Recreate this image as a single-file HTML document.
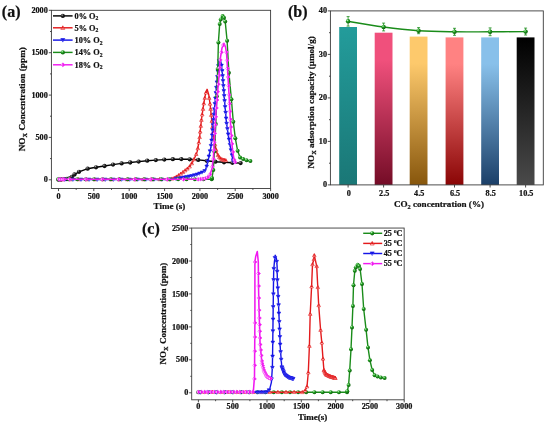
<!DOCTYPE html>
<html><head><meta charset="utf-8"><title>figure</title>
<style>
html,body{margin:0;padding:0;background:#fff;}
body{width:550px;height:424px;overflow:hidden;}
svg{display:block;font-family:"Liberation Serif", "DejaVu Serif", serif;font-weight:bold;fill:#111;filter:blur(0.35px);}
text{stroke:#111;stroke-width:0.22px;}
</style></head><body>
<svg width="550" height="424" viewBox="0 0 550 424">
<rect width="550" height="424" fill="#fff"/>
<defs>
<radialGradient id="gK" cx="0.35" cy="0.3" r="0.75"><stop offset="0" stop-color="#bbbbbb"/><stop offset="0.35" stop-color="#222222"/><stop offset="1" stop-color="#000000"/></radialGradient>
<radialGradient id="gG" cx="0.35" cy="0.3" r="0.75"><stop offset="0" stop-color="#b8f0b8"/><stop offset="0.4" stop-color="#1f9a1f"/><stop offset="1" stop-color="#0a5a0a"/></radialGradient>
<linearGradient id="b1" x1="0" y1="0" x2="0" y2="1"><stop offset="0" stop-color="#239c9b"/><stop offset="1" stop-color="#1a7776"/></linearGradient>
<linearGradient id="b2" x1="0" y1="0" x2="0" y2="1"><stop offset="0" stop-color="#f0507c"/><stop offset="0.18" stop-color="#f0507c"/><stop offset="1" stop-color="#740c26"/></linearGradient>
<linearGradient id="b3" x1="0" y1="0" x2="0" y2="1"><stop offset="0" stop-color="#fdc96c"/><stop offset="0.18" stop-color="#fdc96c"/><stop offset="1" stop-color="#87560c"/></linearGradient>
<linearGradient id="b4" x1="0" y1="0" x2="0" y2="1"><stop offset="0" stop-color="#ff8282"/><stop offset="0.18" stop-color="#ff8282"/><stop offset="1" stop-color="#8a0505"/></linearGradient>
<linearGradient id="b5" x1="0" y1="0" x2="0" y2="1"><stop offset="0" stop-color="#88c0ea"/><stop offset="0.18" stop-color="#88c0ea"/><stop offset="1" stop-color="#1b3f68"/></linearGradient>
<linearGradient id="b6" x1="0" y1="0" x2="0" y2="1"><stop offset="0" stop-color="#000000"/><stop offset="1" stop-color="#4a4a4a"/></linearGradient>
</defs>
<g id="panelA">
<rect x="51.4" y="10.3" width="219.20000000000002" height="178.2" fill="none" stroke="#3a3a3a" stroke-width="0.9"/>
<line x1="58.5" y1="188.5" x2="58.5" y2="191.1" stroke="#3a3a3a" stroke-width="0.9"/>
<text x="58.5" y="198.8" font-size="8.2" text-anchor="middle" >0</text>
<line x1="76.2" y1="188.5" x2="76.2" y2="189.9" stroke="#3a3a3a" stroke-width="0.9"/>
<line x1="93.8" y1="188.5" x2="93.8" y2="191.1" stroke="#3a3a3a" stroke-width="0.9"/>
<text x="93.8" y="198.8" font-size="8.2" text-anchor="middle" >500</text>
<line x1="111.5" y1="188.5" x2="111.5" y2="189.9" stroke="#3a3a3a" stroke-width="0.9"/>
<line x1="129.2" y1="188.5" x2="129.2" y2="191.1" stroke="#3a3a3a" stroke-width="0.9"/>
<text x="129.2" y="198.8" font-size="8.2" text-anchor="middle" >1000</text>
<line x1="146.9" y1="188.5" x2="146.9" y2="189.9" stroke="#3a3a3a" stroke-width="0.9"/>
<line x1="164.6" y1="188.5" x2="164.6" y2="191.1" stroke="#3a3a3a" stroke-width="0.9"/>
<text x="164.6" y="198.8" font-size="8.2" text-anchor="middle" >1500</text>
<line x1="182.2" y1="188.5" x2="182.2" y2="189.9" stroke="#3a3a3a" stroke-width="0.9"/>
<line x1="199.9" y1="188.5" x2="199.9" y2="191.1" stroke="#3a3a3a" stroke-width="0.9"/>
<text x="199.9" y="198.8" font-size="8.2" text-anchor="middle" >2000</text>
<line x1="217.6" y1="188.5" x2="217.6" y2="189.9" stroke="#3a3a3a" stroke-width="0.9"/>
<line x1="235.2" y1="188.5" x2="235.2" y2="191.1" stroke="#3a3a3a" stroke-width="0.9"/>
<text x="235.2" y="198.8" font-size="8.2" text-anchor="middle" >2500</text>
<line x1="252.9" y1="188.5" x2="252.9" y2="189.9" stroke="#3a3a3a" stroke-width="0.9"/>
<line x1="270.6" y1="188.5" x2="270.6" y2="191.1" stroke="#3a3a3a" stroke-width="0.9"/>
<text x="270.6" y="198.8" font-size="8.2" text-anchor="middle" >3000</text>
<line x1="51.4" y1="179.8" x2="48.8" y2="179.8" stroke="#3a3a3a" stroke-width="0.9"/>
<text x="47.8" y="182.4" font-size="8.2" text-anchor="end" >0</text>
<line x1="51.4" y1="158.6" x2="50.0" y2="158.6" stroke="#3a3a3a" stroke-width="0.9"/>
<line x1="51.4" y1="137.4" x2="48.8" y2="137.4" stroke="#3a3a3a" stroke-width="0.9"/>
<text x="47.8" y="140.0" font-size="8.2" text-anchor="end" >500</text>
<line x1="51.4" y1="116.2" x2="50.0" y2="116.2" stroke="#3a3a3a" stroke-width="0.9"/>
<line x1="51.4" y1="95.1" x2="48.8" y2="95.1" stroke="#3a3a3a" stroke-width="0.9"/>
<text x="47.8" y="97.7" font-size="8.2" text-anchor="end" >1000</text>
<line x1="51.4" y1="73.9" x2="50.0" y2="73.9" stroke="#3a3a3a" stroke-width="0.9"/>
<line x1="51.4" y1="52.7" x2="48.8" y2="52.7" stroke="#3a3a3a" stroke-width="0.9"/>
<text x="47.8" y="55.3" font-size="8.2" text-anchor="end" >1500</text>
<line x1="51.4" y1="31.5" x2="50.0" y2="31.5" stroke="#3a3a3a" stroke-width="0.9"/>
<line x1="51.4" y1="10.3" x2="48.8" y2="10.3" stroke="#3a3a3a" stroke-width="0.9"/>
<text x="47.8" y="12.9" font-size="8.2" text-anchor="end" >2000</text>
<text x="169.4" y="209.0" font-size="9" text-anchor="middle" >Time (s)</text>
<text transform="translate(25.2,99.2) rotate(-90)" font-size="9.25" text-anchor="middle">NO<tspan font-size="6.3" dy="1.8">X</tspan><tspan dy="-1.8"> Concentration (ppm)</tspan></text>
<text x="1.8" y="17.1" font-size="16" text-anchor="start" >(a)</text>
<polyline points="58.5,179.7 61.0,179.5 64.0,179.1 67.0,179.0 69.5,178.5 71.8,176.9 74.5,174.5 79.0,171.8 87.6,168.7 96.0,167.3 104.5,166.0 113.0,164.6 121.6,163.4 130.2,162.5 138.6,161.6 147.2,160.7 155.8,160.1 164.3,159.6 172.8,159.2 181.3,159.1 189.7,159.3 198.2,159.9 206.8,160.8 215.4,161.7 224.0,162.3 232.4,162.8 240.6,163.1" fill="none" stroke="#000" stroke-width="1.4" stroke-linejoin="round"/>
<circle cx="58.5" cy="179.7" r="2.15" fill="url(#gK)"/>
<circle cx="61.0" cy="179.5" r="2.15" fill="url(#gK)"/>
<circle cx="64.0" cy="179.1" r="2.15" fill="url(#gK)"/>
<circle cx="67.0" cy="179.0" r="2.15" fill="url(#gK)"/>
<circle cx="69.5" cy="178.5" r="2.15" fill="url(#gK)"/>
<circle cx="71.8" cy="176.9" r="2.15" fill="url(#gK)"/>
<circle cx="74.5" cy="174.5" r="2.15" fill="url(#gK)"/>
<circle cx="79.0" cy="171.8" r="2.15" fill="url(#gK)"/>
<circle cx="87.6" cy="168.7" r="2.15" fill="url(#gK)"/>
<circle cx="96.0" cy="167.3" r="2.15" fill="url(#gK)"/>
<circle cx="104.5" cy="166.0" r="2.15" fill="url(#gK)"/>
<circle cx="113.0" cy="164.6" r="2.15" fill="url(#gK)"/>
<circle cx="121.6" cy="163.4" r="2.15" fill="url(#gK)"/>
<circle cx="130.2" cy="162.5" r="2.15" fill="url(#gK)"/>
<circle cx="138.6" cy="161.6" r="2.15" fill="url(#gK)"/>
<circle cx="147.2" cy="160.7" r="2.15" fill="url(#gK)"/>
<circle cx="155.8" cy="160.1" r="2.15" fill="url(#gK)"/>
<circle cx="164.3" cy="159.6" r="2.15" fill="url(#gK)"/>
<circle cx="172.8" cy="159.2" r="2.15" fill="url(#gK)"/>
<circle cx="181.3" cy="159.1" r="2.15" fill="url(#gK)"/>
<circle cx="189.7" cy="159.3" r="2.15" fill="url(#gK)"/>
<circle cx="198.2" cy="159.9" r="2.15" fill="url(#gK)"/>
<circle cx="206.8" cy="160.8" r="2.15" fill="url(#gK)"/>
<circle cx="215.4" cy="161.7" r="2.15" fill="url(#gK)"/>
<circle cx="224.0" cy="162.3" r="2.15" fill="url(#gK)"/>
<circle cx="232.4" cy="162.8" r="2.15" fill="url(#gK)"/>
<circle cx="240.6" cy="163.1" r="2.15" fill="url(#gK)"/>
<polyline points="58.3,179.4 170.0,179.3 174.5,177.9 180.0,174.4 184.5,171.0 189.0,167.4 192.7,162.0 195.5,156.0 197.2,151.4 198.5,144.5 199.7,136.5 201.4,120.0 203.8,103.4 205.5,94.0 207.1,89.3 208.8,95.0 210.3,106.0 211.6,119.0 212.9,132.0 214.8,143.5 216.8,152.6 218.6,156.4 220.6,158.6 223.0,159.8 225.8,160.4" fill="none" stroke="#e31a1c" stroke-width="1.4" stroke-linejoin="round"/>
<polygon points="62.4,177.6 60.6,180.8 64.2,180.8" fill="#ffd9d4" stroke="#e31a1c" stroke-width="0.6"/><polygon points="62.4,177.6 61.1,179.9 63.7,179.9" fill="#e31a1c"/>
<polygon points="70.5,177.6 68.7,180.8 72.3,180.8" fill="#ffd9d4" stroke="#e31a1c" stroke-width="0.6"/><polygon points="70.5,177.6 69.2,179.9 71.8,179.9" fill="#e31a1c"/>
<polygon points="78.6,177.6 76.8,180.8 80.4,180.8" fill="#ffd9d4" stroke="#e31a1c" stroke-width="0.6"/><polygon points="78.6,177.6 77.3,179.9 79.9,179.9" fill="#e31a1c"/>
<polygon points="86.7,177.6 84.9,180.8 88.5,180.8" fill="#ffd9d4" stroke="#e31a1c" stroke-width="0.6"/><polygon points="86.7,177.6 85.4,179.9 88.0,179.9" fill="#e31a1c"/>
<polygon points="94.8,177.6 93.0,180.8 96.6,180.8" fill="#ffd9d4" stroke="#e31a1c" stroke-width="0.6"/><polygon points="94.8,177.6 93.5,179.9 96.1,179.9" fill="#e31a1c"/>
<polygon points="102.9,177.6 101.1,180.8 104.7,180.8" fill="#ffd9d4" stroke="#e31a1c" stroke-width="0.6"/><polygon points="102.9,177.6 101.6,179.9 104.2,179.9" fill="#e31a1c"/>
<polygon points="111.0,177.6 109.2,180.8 112.8,180.8" fill="#ffd9d4" stroke="#e31a1c" stroke-width="0.6"/><polygon points="111.0,177.6 109.7,179.9 112.3,179.9" fill="#e31a1c"/>
<polygon points="119.1,177.5 117.3,180.8 120.9,180.8" fill="#ffd9d4" stroke="#e31a1c" stroke-width="0.6"/><polygon points="119.1,177.5 117.8,179.9 120.4,179.9" fill="#e31a1c"/>
<polygon points="127.2,177.5 125.4,180.8 129.0,180.8" fill="#ffd9d4" stroke="#e31a1c" stroke-width="0.6"/><polygon points="127.2,177.5 125.9,179.9 128.5,179.9" fill="#e31a1c"/>
<polygon points="135.3,177.5 133.5,180.8 137.1,180.8" fill="#ffd9d4" stroke="#e31a1c" stroke-width="0.6"/><polygon points="135.3,177.5 134.0,179.9 136.6,179.9" fill="#e31a1c"/>
<polygon points="143.4,177.5 141.6,180.8 145.2,180.8" fill="#ffd9d4" stroke="#e31a1c" stroke-width="0.6"/><polygon points="143.4,177.5 142.1,179.9 144.7,179.9" fill="#e31a1c"/>
<polygon points="151.5,177.5 149.7,180.8 153.3,180.8" fill="#ffd9d4" stroke="#e31a1c" stroke-width="0.6"/><polygon points="151.5,177.5 150.2,179.9 152.8,179.9" fill="#e31a1c"/>
<polygon points="159.6,177.5 157.8,180.7 161.4,180.7" fill="#ffd9d4" stroke="#e31a1c" stroke-width="0.6"/><polygon points="159.6,177.5 158.3,179.8 160.9,179.8" fill="#e31a1c"/>
<polygon points="167.7,177.5 165.9,180.7 169.5,180.7" fill="#ffd9d4" stroke="#e31a1c" stroke-width="0.6"/><polygon points="167.7,177.5 166.4,179.8 169.0,179.8" fill="#e31a1c"/>
<polygon points="172.0,176.9 170.2,180.1 173.8,180.1" fill="#ffd9d4" stroke="#e31a1c" stroke-width="0.6"/><polygon points="172.0,176.9 170.7,179.2 173.3,179.2" fill="#e31a1c"/>
<polygon points="174.2,176.2 172.4,179.4 176.0,179.4" fill="#ffd9d4" stroke="#e31a1c" stroke-width="0.6"/><polygon points="174.2,176.2 172.9,178.5 175.5,178.5" fill="#e31a1c"/>
<polygon points="176.4,174.9 174.6,178.1 178.2,178.1" fill="#ffd9d4" stroke="#e31a1c" stroke-width="0.6"/><polygon points="176.4,174.9 175.1,177.2 177.7,177.2" fill="#e31a1c"/>
<polygon points="178.6,173.5 176.8,176.7 180.4,176.7" fill="#ffd9d4" stroke="#e31a1c" stroke-width="0.6"/><polygon points="178.6,173.5 177.3,175.8 179.9,175.8" fill="#e31a1c"/>
<polygon points="180.8,172.0 179.0,175.2 182.6,175.2" fill="#ffd9d4" stroke="#e31a1c" stroke-width="0.6"/><polygon points="180.8,172.0 179.5,174.3 182.1,174.3" fill="#e31a1c"/>
<polygon points="183.0,170.3 181.2,173.6 184.8,173.6" fill="#ffd9d4" stroke="#e31a1c" stroke-width="0.6"/><polygon points="183.0,170.3 181.7,172.7 184.3,172.7" fill="#e31a1c"/>
<polygon points="185.2,168.6 183.4,171.9 187.0,171.9" fill="#ffd9d4" stroke="#e31a1c" stroke-width="0.6"/><polygon points="185.2,168.6 183.9,171.0 186.5,171.0" fill="#e31a1c"/>
<polygon points="187.4,166.9 185.6,170.1 189.2,170.1" fill="#ffd9d4" stroke="#e31a1c" stroke-width="0.6"/><polygon points="187.4,166.9 186.1,169.2 188.7,169.2" fill="#e31a1c"/>
<polygon points="189.6,164.7 187.8,168.0 191.4,168.0" fill="#ffd9d4" stroke="#e31a1c" stroke-width="0.6"/><polygon points="189.6,164.7 188.3,167.1 190.9,167.1" fill="#e31a1c"/>
<polygon points="191.8,161.5 190.0,164.8 193.6,164.8" fill="#ffd9d4" stroke="#e31a1c" stroke-width="0.6"/><polygon points="191.8,161.5 190.5,163.9 193.1,163.9" fill="#e31a1c"/>
<polygon points="194.0,157.4 192.2,160.7 195.8,160.7" fill="#ffd9d4" stroke="#e31a1c" stroke-width="0.6"/><polygon points="194.0,157.4 192.7,159.8 195.3,159.8" fill="#e31a1c"/>
<polygon points="196.2,152.3 194.4,155.5 198.0,155.5" fill="#ffd9d4" stroke="#e31a1c" stroke-width="0.6"/><polygon points="196.2,152.3 194.9,154.6 197.5,154.6" fill="#e31a1c"/>
<polygon points="197.8,146.4 196.0,149.7 199.6,149.7" fill="#ffd9d4" stroke="#e31a1c" stroke-width="0.6"/><polygon points="197.8,146.4 196.5,148.8 199.1,148.8" fill="#e31a1c"/>
<polygon points="198.8,140.7 197.0,143.9 200.6,143.9" fill="#ffd9d4" stroke="#e31a1c" stroke-width="0.6"/><polygon points="198.8,140.7 197.5,143.0 200.1,143.0" fill="#e31a1c"/>
<polygon points="199.6,135.4 197.8,138.6 201.4,138.6" fill="#ffd9d4" stroke="#e31a1c" stroke-width="0.6"/><polygon points="199.6,135.4 198.3,137.7 200.9,137.7" fill="#e31a1c"/>
<polygon points="200.2,129.8 198.4,133.1 202.0,133.1" fill="#ffd9d4" stroke="#e31a1c" stroke-width="0.6"/><polygon points="200.2,129.8 198.9,132.2 201.5,132.2" fill="#e31a1c"/>
<polygon points="200.8,124.0 199.0,127.3 202.6,127.3" fill="#ffd9d4" stroke="#e31a1c" stroke-width="0.6"/><polygon points="200.8,124.0 199.5,126.4 202.1,126.4" fill="#e31a1c"/>
<polygon points="201.4,118.2 199.6,121.4 203.2,121.4" fill="#ffd9d4" stroke="#e31a1c" stroke-width="0.6"/><polygon points="201.4,118.2 200.1,120.5 202.7,120.5" fill="#e31a1c"/>
<polygon points="202.2,112.7 200.4,115.9 204.0,115.9" fill="#ffd9d4" stroke="#e31a1c" stroke-width="0.6"/><polygon points="202.2,112.7 200.9,115.0 203.5,115.0" fill="#e31a1c"/>
<polygon points="203.0,107.1 201.2,110.4 204.8,110.4" fill="#ffd9d4" stroke="#e31a1c" stroke-width="0.6"/><polygon points="203.0,107.1 201.7,109.5 204.3,109.5" fill="#e31a1c"/>
<polygon points="203.8,101.6 202.0,104.8 205.6,104.8" fill="#ffd9d4" stroke="#e31a1c" stroke-width="0.6"/><polygon points="203.8,101.6 202.5,103.9 205.1,103.9" fill="#e31a1c"/>
<polygon points="204.8,96.1 203.0,99.3 206.6,99.3" fill="#ffd9d4" stroke="#e31a1c" stroke-width="0.6"/><polygon points="204.8,96.1 203.5,98.4 206.1,98.4" fill="#e31a1c"/>
<polygon points="206.0,90.7 204.2,94.0 207.8,94.0" fill="#ffd9d4" stroke="#e31a1c" stroke-width="0.6"/><polygon points="206.0,90.7 204.7,93.1 207.3,93.1" fill="#e31a1c"/>
<polygon points="209.2,96.1 207.4,99.4 211.0,99.4" fill="#ffd9d4" stroke="#e31a1c" stroke-width="0.6"/><polygon points="209.2,96.1 207.9,98.5 210.5,98.5" fill="#e31a1c"/>
<polygon points="210.0,102.0 208.2,105.2 211.8,105.2" fill="#ffd9d4" stroke="#e31a1c" stroke-width="0.6"/><polygon points="210.0,102.0 208.7,104.3 211.3,104.3" fill="#e31a1c"/>
<polygon points="210.6,107.2 208.8,110.4 212.4,110.4" fill="#ffd9d4" stroke="#e31a1c" stroke-width="0.6"/><polygon points="210.6,107.2 209.3,109.5 211.9,109.5" fill="#e31a1c"/>
<polygon points="211.2,113.2 209.4,116.4 213.0,116.4" fill="#ffd9d4" stroke="#e31a1c" stroke-width="0.6"/><polygon points="211.2,113.2 209.9,115.5 212.5,115.5" fill="#e31a1c"/>
<polygon points="211.8,119.2 210.0,122.4 213.6,122.4" fill="#ffd9d4" stroke="#e31a1c" stroke-width="0.6"/><polygon points="211.8,119.2 210.5,121.5 213.1,121.5" fill="#e31a1c"/>
<polygon points="212.4,125.2 210.6,128.4 214.2,128.4" fill="#ffd9d4" stroke="#e31a1c" stroke-width="0.6"/><polygon points="212.4,125.2 211.1,127.5 213.7,127.5" fill="#e31a1c"/>
<polygon points="213.0,130.8 211.2,134.0 214.8,134.0" fill="#ffd9d4" stroke="#e31a1c" stroke-width="0.6"/><polygon points="213.0,130.8 211.7,133.1 214.3,133.1" fill="#e31a1c"/>
<polygon points="214.0,136.9 212.2,140.1 215.8,140.1" fill="#ffd9d4" stroke="#e31a1c" stroke-width="0.6"/><polygon points="214.0,136.9 212.7,139.2 215.3,139.2" fill="#e31a1c"/>
<polygon points="215.0,142.6 213.2,145.8 216.8,145.8" fill="#ffd9d4" stroke="#e31a1c" stroke-width="0.6"/><polygon points="215.0,142.6 213.7,144.9 216.3,144.9" fill="#e31a1c"/>
<polygon points="216.2,148.1 214.4,151.3 218.0,151.3" fill="#ffd9d4" stroke="#e31a1c" stroke-width="0.6"/><polygon points="216.2,148.1 214.9,150.4 217.5,150.4" fill="#e31a1c"/>
<polygon points="218.0,153.3 216.2,156.6 219.8,156.6" fill="#ffd9d4" stroke="#e31a1c" stroke-width="0.6"/><polygon points="218.0,153.3 216.7,155.7 219.3,155.7" fill="#e31a1c"/>
<polygon points="219.3,155.4 217.5,158.6 221.1,158.6" fill="#ffd9d4" stroke="#e31a1c" stroke-width="0.6"/><polygon points="219.3,155.4 218.0,157.7 220.6,157.7" fill="#e31a1c"/>
<polygon points="220.6,156.8 218.8,160.0 222.4,160.0" fill="#ffd9d4" stroke="#e31a1c" stroke-width="0.6"/><polygon points="220.6,156.8 219.3,159.1 221.9,159.1" fill="#e31a1c"/>
<polygon points="221.9,157.5 220.1,160.7 223.7,160.7" fill="#ffd9d4" stroke="#e31a1c" stroke-width="0.6"/><polygon points="221.9,157.5 220.6,159.8 223.2,159.8" fill="#e31a1c"/>
<polygon points="223.2,158.0 221.4,161.3 225.0,161.3" fill="#ffd9d4" stroke="#e31a1c" stroke-width="0.6"/><polygon points="223.2,158.0 221.9,160.4 224.5,160.4" fill="#e31a1c"/>
<polygon points="224.5,158.3 222.7,161.6 226.3,161.6" fill="#ffd9d4" stroke="#e31a1c" stroke-width="0.6"/><polygon points="224.5,158.3 223.2,160.7 225.8,160.7" fill="#e31a1c"/>
<polygon points="225.8,158.6 224.0,161.8 227.6,161.8" fill="#ffd9d4" stroke="#e31a1c" stroke-width="0.6"/><polygon points="225.8,158.6 224.5,160.9 227.1,160.9" fill="#e31a1c"/>
<polyline points="58.3,179.6 170.0,179.5 180.0,178.2 186.0,177.1 192.7,175.7 197.0,174.5 200.0,173.3 202.5,172.2 205.0,170.8 206.7,166.4 208.3,159.3 209.6,153.0 210.8,147.6 212.2,135.3 213.4,120.0 214.7,106.0 216.0,92.0 217.3,78.0 218.5,65.0 219.5,59.4 220.5,60.5 221.3,64.0 222.2,71.0 223.0,81.0 224.8,103.6 226.5,123.0 228.8,138.4 231.1,150.7 232.6,158.3 233.4,161.4" fill="none" stroke="#1414e6" stroke-width="1.4" stroke-linejoin="round"/>
<polygon points="64.8,181.4 63.0,178.2 66.6,178.2" fill="#dcdcff" stroke="#1414e6" stroke-width="0.6"/><polygon points="63.0,178.2 66.6,178.2 65.5,180.1 64.1,180.1" fill="#1414e6"/>
<polygon points="72.9,181.4 71.1,178.1 74.7,178.1" fill="#dcdcff" stroke="#1414e6" stroke-width="0.6"/><polygon points="71.1,178.1 74.7,178.1 73.6,180.1 72.2,180.1" fill="#1414e6"/>
<polygon points="81.0,181.4 79.2,178.1 82.8,178.1" fill="#dcdcff" stroke="#1414e6" stroke-width="0.6"/><polygon points="79.2,178.1 82.8,178.1 81.7,180.1 80.3,180.1" fill="#1414e6"/>
<polygon points="89.1,181.4 87.3,178.1 90.9,178.1" fill="#dcdcff" stroke="#1414e6" stroke-width="0.6"/><polygon points="87.3,178.1 90.9,178.1 89.8,180.1 88.4,180.1" fill="#1414e6"/>
<polygon points="97.2,181.4 95.4,178.1 99.0,178.1" fill="#dcdcff" stroke="#1414e6" stroke-width="0.6"/><polygon points="95.4,178.1 99.0,178.1 97.9,180.1 96.5,180.1" fill="#1414e6"/>
<polygon points="105.3,181.4 103.5,178.1 107.1,178.1" fill="#dcdcff" stroke="#1414e6" stroke-width="0.6"/><polygon points="103.5,178.1 107.1,178.1 106.0,180.1 104.6,180.1" fill="#1414e6"/>
<polygon points="113.4,181.4 111.6,178.1 115.2,178.1" fill="#dcdcff" stroke="#1414e6" stroke-width="0.6"/><polygon points="111.6,178.1 115.2,178.1 114.1,180.1 112.7,180.1" fill="#1414e6"/>
<polygon points="121.5,181.3 119.7,178.1 123.3,178.1" fill="#dcdcff" stroke="#1414e6" stroke-width="0.6"/><polygon points="119.7,178.1 123.3,178.1 122.2,180.0 120.8,180.0" fill="#1414e6"/>
<polygon points="129.6,181.3 127.8,178.1 131.4,178.1" fill="#dcdcff" stroke="#1414e6" stroke-width="0.6"/><polygon points="127.8,178.1 131.4,178.1 130.3,180.0 128.9,180.0" fill="#1414e6"/>
<polygon points="137.7,181.3 135.9,178.1 139.5,178.1" fill="#dcdcff" stroke="#1414e6" stroke-width="0.6"/><polygon points="135.9,178.1 139.5,178.1 138.4,180.0 137.0,180.0" fill="#1414e6"/>
<polygon points="145.8,181.3 144.0,178.1 147.6,178.1" fill="#dcdcff" stroke="#1414e6" stroke-width="0.6"/><polygon points="144.0,178.1 147.6,178.1 146.5,180.0 145.1,180.0" fill="#1414e6"/>
<polygon points="153.9,181.3 152.1,178.1 155.7,178.1" fill="#dcdcff" stroke="#1414e6" stroke-width="0.6"/><polygon points="152.1,178.1 155.7,178.1 154.6,180.0 153.2,180.0" fill="#1414e6"/>
<polygon points="162.0,181.3 160.2,178.1 163.8,178.1" fill="#dcdcff" stroke="#1414e6" stroke-width="0.6"/><polygon points="160.2,178.1 163.8,178.1 162.7,180.0 161.3,180.0" fill="#1414e6"/>
<polygon points="170.1,181.3 168.3,178.0 171.9,178.0" fill="#dcdcff" stroke="#1414e6" stroke-width="0.6"/><polygon points="168.3,178.0 171.9,178.0 170.8,180.0 169.4,180.0" fill="#1414e6"/>
<polygon points="176.0,180.5 174.2,177.3 177.8,177.3" fill="#dcdcff" stroke="#1414e6" stroke-width="0.6"/><polygon points="174.2,177.3 177.8,177.3 176.7,179.2 175.3,179.2" fill="#1414e6"/>
<polygon points="178.6,180.2 176.8,176.9 180.4,176.9" fill="#dcdcff" stroke="#1414e6" stroke-width="0.6"/><polygon points="176.8,176.9 180.4,176.9 179.3,178.9 177.9,178.9" fill="#1414e6"/>
<polygon points="181.2,179.8 179.4,176.5 183.0,176.5" fill="#dcdcff" stroke="#1414e6" stroke-width="0.6"/><polygon points="179.4,176.5 183.0,176.5 181.9,178.5 180.5,178.5" fill="#1414e6"/>
<polygon points="183.8,179.3 182.0,176.1 185.6,176.1" fill="#dcdcff" stroke="#1414e6" stroke-width="0.6"/><polygon points="182.0,176.1 185.6,176.1 184.5,178.0 183.1,178.0" fill="#1414e6"/>
<polygon points="186.4,178.8 184.6,175.6 188.2,175.6" fill="#dcdcff" stroke="#1414e6" stroke-width="0.6"/><polygon points="184.6,175.6 188.2,175.6 187.1,177.5 185.7,177.5" fill="#1414e6"/>
<polygon points="189.0,178.3 187.2,175.0 190.8,175.0" fill="#dcdcff" stroke="#1414e6" stroke-width="0.6"/><polygon points="187.2,175.0 190.8,175.0 189.7,177.0 188.3,177.0" fill="#1414e6"/>
<polygon points="191.6,177.7 189.8,174.5 193.4,174.5" fill="#dcdcff" stroke="#1414e6" stroke-width="0.6"/><polygon points="189.8,174.5 193.4,174.5 192.3,176.4 190.9,176.4" fill="#1414e6"/>
<polygon points="194.2,177.1 192.4,173.8 196.0,173.8" fill="#dcdcff" stroke="#1414e6" stroke-width="0.6"/><polygon points="192.4,173.8 196.0,173.8 194.9,175.8 193.5,175.8" fill="#1414e6"/>
<polygon points="196.8,176.4 195.0,173.1 198.6,173.1" fill="#dcdcff" stroke="#1414e6" stroke-width="0.6"/><polygon points="195.0,173.1 198.6,173.1 197.5,175.1 196.1,175.1" fill="#1414e6"/>
<polygon points="199.4,175.3 197.6,172.1 201.2,172.1" fill="#dcdcff" stroke="#1414e6" stroke-width="0.6"/><polygon points="197.6,172.1 201.2,172.1 200.1,174.0 198.7,174.0" fill="#1414e6"/>
<polygon points="202.0,174.2 200.2,171.0 203.8,171.0" fill="#dcdcff" stroke="#1414e6" stroke-width="0.6"/><polygon points="200.2,171.0 203.8,171.0 202.7,172.9 201.3,172.9" fill="#1414e6"/>
<polygon points="204.6,172.8 202.8,169.6 206.4,169.6" fill="#dcdcff" stroke="#1414e6" stroke-width="0.6"/><polygon points="202.8,169.6 206.4,169.6 205.3,171.5 203.9,171.5" fill="#1414e6"/>
<polygon points="206.7,168.2 204.9,165.0 208.5,165.0" fill="#dcdcff" stroke="#1414e6" stroke-width="0.6"/><polygon points="204.9,165.0 208.5,165.0 207.4,166.9 206.0,166.9" fill="#1414e6"/>
<polygon points="207.8,163.3 206.0,160.1 209.6,160.1" fill="#dcdcff" stroke="#1414e6" stroke-width="0.6"/><polygon points="206.0,160.1 209.6,160.1 208.5,162.0 207.1,162.0" fill="#1414e6"/>
<polygon points="208.9,158.2 207.1,155.0 210.7,155.0" fill="#dcdcff" stroke="#1414e6" stroke-width="0.6"/><polygon points="207.1,155.0 210.7,155.0 209.6,156.9 208.2,156.9" fill="#1414e6"/>
<polygon points="210.0,153.0 208.2,149.8 211.8,149.8" fill="#dcdcff" stroke="#1414e6" stroke-width="0.6"/><polygon points="208.2,149.8 211.8,149.8 210.7,151.7 209.3,151.7" fill="#1414e6"/>
<polygon points="211.0,147.6 209.2,144.4 212.8,144.4" fill="#dcdcff" stroke="#1414e6" stroke-width="0.6"/><polygon points="209.2,144.4 212.8,144.4 211.7,146.3 210.3,146.3" fill="#1414e6"/>
<polygon points="211.6,142.4 209.8,139.1 213.4,139.1" fill="#dcdcff" stroke="#1414e6" stroke-width="0.6"/><polygon points="209.8,139.1 213.4,139.1 212.3,141.1 210.9,141.1" fill="#1414e6"/>
<polygon points="212.2,137.1 210.4,133.9 214.0,133.9" fill="#dcdcff" stroke="#1414e6" stroke-width="0.6"/><polygon points="210.4,133.9 214.0,133.9 212.9,135.8 211.5,135.8" fill="#1414e6"/>
<polygon points="212.6,132.0 210.8,128.8 214.4,128.8" fill="#dcdcff" stroke="#1414e6" stroke-width="0.6"/><polygon points="210.8,128.8 214.4,128.8 213.3,130.7 211.9,130.7" fill="#1414e6"/>
<polygon points="213.0,126.9 211.2,123.7 214.8,123.7" fill="#dcdcff" stroke="#1414e6" stroke-width="0.6"/><polygon points="211.2,123.7 214.8,123.7 213.7,125.6 212.3,125.6" fill="#1414e6"/>
<polygon points="213.4,121.8 211.6,118.6 215.2,118.6" fill="#dcdcff" stroke="#1414e6" stroke-width="0.6"/><polygon points="211.6,118.6 215.2,118.6 214.1,120.5 212.7,120.5" fill="#1414e6"/>
<polygon points="213.9,116.4 212.1,113.2 215.7,113.2" fill="#dcdcff" stroke="#1414e6" stroke-width="0.6"/><polygon points="212.1,113.2 215.7,113.2 214.6,115.1 213.2,115.1" fill="#1414e6"/>
<polygon points="214.4,111.0 212.6,107.8 216.2,107.8" fill="#dcdcff" stroke="#1414e6" stroke-width="0.6"/><polygon points="212.6,107.8 216.2,107.8 215.1,109.7 213.7,109.7" fill="#1414e6"/>
<polygon points="214.9,105.6 213.1,102.4 216.7,102.4" fill="#dcdcff" stroke="#1414e6" stroke-width="0.6"/><polygon points="213.1,102.4 216.7,102.4 215.6,104.4 214.2,104.4" fill="#1414e6"/>
<polygon points="215.4,100.3 213.6,97.0 217.2,97.0" fill="#dcdcff" stroke="#1414e6" stroke-width="0.6"/><polygon points="213.6,97.0 217.2,97.0 216.1,99.0 214.7,99.0" fill="#1414e6"/>
<polygon points="215.9,94.9 214.1,91.6 217.7,91.6" fill="#dcdcff" stroke="#1414e6" stroke-width="0.6"/><polygon points="214.1,91.6 217.7,91.6 216.6,93.6 215.2,93.6" fill="#1414e6"/>
<polygon points="216.4,89.5 214.6,86.3 218.2,86.3" fill="#dcdcff" stroke="#1414e6" stroke-width="0.6"/><polygon points="214.6,86.3 218.2,86.3 217.1,88.2 215.7,88.2" fill="#1414e6"/>
<polygon points="216.9,84.1 215.1,80.9 218.7,80.9" fill="#dcdcff" stroke="#1414e6" stroke-width="0.6"/><polygon points="215.1,80.9 218.7,80.9 217.6,82.8 216.2,82.8" fill="#1414e6"/>
<polygon points="217.4,78.7 215.6,75.5 219.2,75.5" fill="#dcdcff" stroke="#1414e6" stroke-width="0.6"/><polygon points="215.6,75.5 219.2,75.5 218.1,77.4 216.7,77.4" fill="#1414e6"/>
<polygon points="217.9,73.3 216.1,70.1 219.7,70.1" fill="#dcdcff" stroke="#1414e6" stroke-width="0.6"/><polygon points="216.1,70.1 219.7,70.1 218.6,72.0 217.2,72.0" fill="#1414e6"/>
<polygon points="218.4,67.9 216.6,64.6 220.2,64.6" fill="#dcdcff" stroke="#1414e6" stroke-width="0.6"/><polygon points="216.6,64.6 220.2,64.6 219.1,66.6 217.7,66.6" fill="#1414e6"/>
<polygon points="219.2,62.9 217.4,59.6 221.0,59.6" fill="#dcdcff" stroke="#1414e6" stroke-width="0.6"/><polygon points="217.4,59.6 221.0,59.6 219.9,61.6 218.5,61.6" fill="#1414e6"/>
<polygon points="221.5,67.4 219.7,64.1 223.3,64.1" fill="#dcdcff" stroke="#1414e6" stroke-width="0.6"/><polygon points="219.7,64.1 223.3,64.1 222.2,66.1 220.8,66.1" fill="#1414e6"/>
<polygon points="222.2,72.8 220.4,69.6 224.0,69.6" fill="#dcdcff" stroke="#1414e6" stroke-width="0.6"/><polygon points="220.4,69.6 224.0,69.6 222.9,71.5 221.5,71.5" fill="#1414e6"/>
<polygon points="222.6,77.8 220.8,74.6 224.4,74.6" fill="#dcdcff" stroke="#1414e6" stroke-width="0.6"/><polygon points="220.8,74.6 224.4,74.6 223.3,76.5 221.9,76.5" fill="#1414e6"/>
<polygon points="223.0,82.8 221.2,79.6 224.8,79.6" fill="#dcdcff" stroke="#1414e6" stroke-width="0.6"/><polygon points="221.2,79.6 224.8,79.6 223.7,81.5 222.3,81.5" fill="#1414e6"/>
<polygon points="223.4,87.8 221.6,84.6 225.2,84.6" fill="#dcdcff" stroke="#1414e6" stroke-width="0.6"/><polygon points="221.6,84.6 225.2,84.6 224.1,86.5 222.7,86.5" fill="#1414e6"/>
<polygon points="223.8,92.8 222.0,89.6 225.6,89.6" fill="#dcdcff" stroke="#1414e6" stroke-width="0.6"/><polygon points="222.0,89.6 225.6,89.6 224.5,91.5 223.1,91.5" fill="#1414e6"/>
<polygon points="224.2,97.9 222.4,94.6 226.0,94.6" fill="#dcdcff" stroke="#1414e6" stroke-width="0.6"/><polygon points="222.4,94.6 226.0,94.6 224.9,96.6 223.5,96.6" fill="#1414e6"/>
<polygon points="224.6,102.9 222.8,99.6 226.4,99.6" fill="#dcdcff" stroke="#1414e6" stroke-width="0.6"/><polygon points="222.8,99.6 226.4,99.6 225.3,101.6 223.9,101.6" fill="#1414e6"/>
<polygon points="225.1,108.8 223.3,105.6 226.9,105.6" fill="#dcdcff" stroke="#1414e6" stroke-width="0.6"/><polygon points="223.3,105.6 226.9,105.6 225.8,107.5 224.4,107.5" fill="#1414e6"/>
<polygon points="225.6,114.5 223.8,111.3 227.4,111.3" fill="#dcdcff" stroke="#1414e6" stroke-width="0.6"/><polygon points="223.8,111.3 227.4,111.3 226.3,113.2 224.9,113.2" fill="#1414e6"/>
<polygon points="226.1,120.2 224.3,117.0 227.9,117.0" fill="#dcdcff" stroke="#1414e6" stroke-width="0.6"/><polygon points="224.3,117.0 227.9,117.0 226.8,118.9 225.4,118.9" fill="#1414e6"/>
<polygon points="226.6,125.5 224.8,122.2 228.4,122.2" fill="#dcdcff" stroke="#1414e6" stroke-width="0.6"/><polygon points="224.8,122.2 228.4,122.2 227.3,124.2 225.9,124.2" fill="#1414e6"/>
<polygon points="227.4,130.8 225.6,127.6 229.2,127.6" fill="#dcdcff" stroke="#1414e6" stroke-width="0.6"/><polygon points="225.6,127.6 229.2,127.6 228.1,129.5 226.7,129.5" fill="#1414e6"/>
<polygon points="228.2,136.2 226.4,132.9 230.0,132.9" fill="#dcdcff" stroke="#1414e6" stroke-width="0.6"/><polygon points="226.4,132.9 230.0,132.9 228.9,134.9 227.5,134.9" fill="#1414e6"/>
<polygon points="229.0,141.3 227.2,138.0 230.8,138.0" fill="#dcdcff" stroke="#1414e6" stroke-width="0.6"/><polygon points="227.2,138.0 230.8,138.0 229.7,140.0 228.3,140.0" fill="#1414e6"/>
<polygon points="230.0,146.6 228.2,143.4 231.8,143.4" fill="#dcdcff" stroke="#1414e6" stroke-width="0.6"/><polygon points="228.2,143.4 231.8,143.4 230.7,145.3 229.3,145.3" fill="#1414e6"/>
<polygon points="231.0,152.0 229.2,148.7 232.8,148.7" fill="#dcdcff" stroke="#1414e6" stroke-width="0.6"/><polygon points="229.2,148.7 232.8,148.7 231.7,150.7 230.3,150.7" fill="#1414e6"/>
<polygon points="232.0,157.1 230.2,153.8 233.8,153.8" fill="#dcdcff" stroke="#1414e6" stroke-width="0.6"/><polygon points="230.2,153.8 233.8,153.8 232.7,155.8 231.3,155.8" fill="#1414e6"/>
<polygon points="233.1,162.0 231.3,158.8 234.9,158.8" fill="#dcdcff" stroke="#1414e6" stroke-width="0.6"/><polygon points="231.3,158.8 234.9,158.8 233.8,160.7 232.4,160.7" fill="#1414e6"/>
<polygon points="233.4,163.2 231.6,160.0 235.2,160.0" fill="#dcdcff" stroke="#1414e6" stroke-width="0.6"/><polygon points="231.6,160.0 235.2,160.0 234.1,161.9 232.7,161.9" fill="#1414e6"/>
<polyline points="58.1,179.2 60.4,179.2 68.8,179.2 77.2,179.2 85.6,179.2 94.0,179.2 102.4,179.2 110.8,179.2 119.2,179.2 127.6,179.2 136.0,179.2 144.4,179.2 152.8,179.2 161.2,179.2 169.6,179.2 178.1,179.2 186.5,179.2 194.9,179.2 203.3,179.2 211.7,179.2 212.0,177.9 213.3,170.0 214.4,151.5 215.8,124.1 216.8,96.2 217.7,68.9 218.4,42.4 219.7,23.9 220.7,19.5 222.6,16.1 224.0,17.7 225.2,21.4 227.1,40.7 228.9,72.7 231.4,99.3 233.3,121.8 235.3,138.2 237.6,150.7 240.1,157.5 243.1,159.1 246.5,160.3 250.4,161.1" fill="none" stroke="#1a8c1a" stroke-width="1.4" stroke-linejoin="round"/>
<circle cx="58.1" cy="179.2" r="2.0" fill="url(#gG)"/>
<circle cx="60.4" cy="179.2" r="2.0" fill="url(#gG)"/>
<circle cx="68.8" cy="179.2" r="2.0" fill="url(#gG)"/>
<circle cx="77.2" cy="179.2" r="2.0" fill="url(#gG)"/>
<circle cx="85.6" cy="179.2" r="2.0" fill="url(#gG)"/>
<circle cx="94.0" cy="179.2" r="2.0" fill="url(#gG)"/>
<circle cx="102.4" cy="179.2" r="2.0" fill="url(#gG)"/>
<circle cx="110.8" cy="179.2" r="2.0" fill="url(#gG)"/>
<circle cx="119.2" cy="179.2" r="2.0" fill="url(#gG)"/>
<circle cx="127.6" cy="179.2" r="2.0" fill="url(#gG)"/>
<circle cx="136.0" cy="179.2" r="2.0" fill="url(#gG)"/>
<circle cx="144.4" cy="179.2" r="2.0" fill="url(#gG)"/>
<circle cx="152.8" cy="179.2" r="2.0" fill="url(#gG)"/>
<circle cx="161.2" cy="179.2" r="2.0" fill="url(#gG)"/>
<circle cx="169.6" cy="179.2" r="2.0" fill="url(#gG)"/>
<circle cx="178.1" cy="179.2" r="2.0" fill="url(#gG)"/>
<circle cx="186.5" cy="179.2" r="2.0" fill="url(#gG)"/>
<circle cx="194.9" cy="179.2" r="2.0" fill="url(#gG)"/>
<circle cx="203.3" cy="179.2" r="2.0" fill="url(#gG)"/>
<circle cx="211.7" cy="179.2" r="2.0" fill="url(#gG)"/>
<circle cx="212.0" cy="177.9" r="2.0" fill="url(#gG)"/>
<circle cx="213.3" cy="170.0" r="2.0" fill="url(#gG)"/>
<circle cx="214.4" cy="151.5" r="2.0" fill="url(#gG)"/>
<circle cx="215.8" cy="124.1" r="2.0" fill="url(#gG)"/>
<circle cx="216.8" cy="96.2" r="2.0" fill="url(#gG)"/>
<circle cx="217.7" cy="68.9" r="2.0" fill="url(#gG)"/>
<circle cx="218.4" cy="42.4" r="2.0" fill="url(#gG)"/>
<circle cx="219.7" cy="23.9" r="2.0" fill="url(#gG)"/>
<circle cx="220.7" cy="19.5" r="2.0" fill="url(#gG)"/>
<circle cx="222.6" cy="16.1" r="2.0" fill="url(#gG)"/>
<circle cx="224.0" cy="17.7" r="2.0" fill="url(#gG)"/>
<circle cx="225.2" cy="21.4" r="2.0" fill="url(#gG)"/>
<circle cx="227.1" cy="40.7" r="2.0" fill="url(#gG)"/>
<circle cx="228.9" cy="72.7" r="2.0" fill="url(#gG)"/>
<circle cx="231.4" cy="99.3" r="2.0" fill="url(#gG)"/>
<circle cx="233.3" cy="121.8" r="2.0" fill="url(#gG)"/>
<circle cx="235.3" cy="138.2" r="2.0" fill="url(#gG)"/>
<circle cx="237.6" cy="150.7" r="2.0" fill="url(#gG)"/>
<circle cx="240.1" cy="157.5" r="2.0" fill="url(#gG)"/>
<circle cx="243.1" cy="159.1" r="2.0" fill="url(#gG)"/>
<circle cx="246.5" cy="160.3" r="2.0" fill="url(#gG)"/>
<circle cx="250.4" cy="161.1" r="2.0" fill="url(#gG)"/>
<polyline points="58.3,179.3 198.0,179.3 202.0,178.9 205.0,178.5 207.5,177.4 209.6,175.5 211.9,169.0 213.4,158.3 214.0,146.0 215.0,128.0 216.0,112.0 217.2,96.0 218.5,82.0 220.3,58.6 222.0,48.0 223.9,43.3 225.5,47.0 226.6,54.0 227.6,70.0 228.4,84.0 229.5,103.6 230.7,127.0 231.4,139.0 232.6,150.7 234.1,159.9 234.9,162.2" fill="none" stroke="#f018f0" stroke-width="1.55" stroke-linejoin="round"/>
<polygon points="56.99,179.30 58.80,177.40 60.89,179.30 58.80,181.20" fill="#fff4ff" stroke="#f018f0" stroke-width="0.5"/><polygon points="58.26,177.97 58.80,177.40 60.89,179.30 58.80,181.20 58.26,180.63" fill="#f018f0"/>
<polygon points="58.70,179.30 60.50,177.40 62.59,179.30 60.50,181.20" fill="#fff4ff" stroke="#f018f0" stroke-width="0.5"/><polygon points="59.96,177.97 60.50,177.40 62.59,179.30 60.50,181.20 59.96,180.63" fill="#f018f0"/>
<polygon points="60.40,179.30 62.20,177.40 64.29,179.30 62.20,181.20" fill="#fff4ff" stroke="#f018f0" stroke-width="0.5"/><polygon points="61.66,177.97 62.20,177.40 64.29,179.30 62.20,181.20 61.66,180.63" fill="#f018f0"/>
<polygon points="62.10,179.30 63.90,177.40 65.99,179.30 63.90,181.20" fill="#fff4ff" stroke="#f018f0" stroke-width="0.5"/><polygon points="63.36,177.97 63.90,177.40 65.99,179.30 63.90,181.20 63.36,180.63" fill="#f018f0"/>
<polygon points="67.79,179.30 69.60,177.40 71.69,179.30 69.60,181.20" fill="#fff4ff" stroke="#f018f0" stroke-width="0.5"/><polygon points="69.06,177.97 69.60,177.40 71.69,179.30 69.60,181.20 69.06,180.63" fill="#f018f0"/>
<polygon points="84.04,179.30 85.85,177.40 87.94,179.30 85.85,181.20" fill="#fff4ff" stroke="#f018f0" stroke-width="0.5"/><polygon points="85.31,177.97 85.85,177.40 87.94,179.30 85.85,181.20 85.31,180.63" fill="#f018f0"/>
<polygon points="100.29,179.30 102.10,177.40 104.19,179.30 102.10,181.20" fill="#fff4ff" stroke="#f018f0" stroke-width="0.5"/><polygon points="101.56,177.97 102.10,177.40 104.19,179.30 102.10,181.20 101.56,180.63" fill="#f018f0"/>
<polygon points="116.54,179.30 118.35,177.40 120.44,179.30 118.35,181.20" fill="#fff4ff" stroke="#f018f0" stroke-width="0.5"/><polygon points="117.81,177.97 118.35,177.40 120.44,179.30 118.35,181.20 117.81,180.63" fill="#f018f0"/>
<polygon points="132.79,179.30 134.60,177.40 136.69,179.30 134.60,181.20" fill="#fff4ff" stroke="#f018f0" stroke-width="0.5"/><polygon points="134.06,177.97 134.60,177.40 136.69,179.30 134.60,181.20 134.06,180.63" fill="#f018f0"/>
<polygon points="149.04,179.30 150.85,177.40 152.94,179.30 150.85,181.20" fill="#fff4ff" stroke="#f018f0" stroke-width="0.5"/><polygon points="150.31,177.97 150.85,177.40 152.94,179.30 150.85,181.20 150.31,180.63" fill="#f018f0"/>
<polygon points="165.29,179.30 167.10,177.40 169.19,179.30 167.10,181.20" fill="#fff4ff" stroke="#f018f0" stroke-width="0.5"/><polygon points="166.56,177.97 167.10,177.40 169.19,179.30 167.10,181.20 166.56,180.63" fill="#f018f0"/>
<polygon points="181.54,179.30 183.35,177.40 185.44,179.30 183.35,181.20" fill="#fff4ff" stroke="#f018f0" stroke-width="0.5"/><polygon points="182.81,177.97 183.35,177.40 185.44,179.30 183.35,181.20 182.81,180.63" fill="#f018f0"/>
<polygon points="196.19,179.30 198.00,177.40 200.09,179.30 198.00,181.20" fill="#fff4ff" stroke="#f018f0" stroke-width="0.5"/><polygon points="197.46,177.97 198.00,177.40 200.09,179.30 198.00,181.20 197.46,180.63" fill="#f018f0"/>
<polygon points="198.59,179.06 200.40,177.16 202.49,179.06 200.40,180.96" fill="#fff4ff" stroke="#f018f0" stroke-width="0.5"/><polygon points="199.86,177.73 200.40,177.16 202.49,179.06 200.40,180.96 199.86,180.39" fill="#f018f0"/>
<polygon points="201.00,178.79 202.80,176.89 204.89,178.79 202.80,180.69" fill="#fff4ff" stroke="#f018f0" stroke-width="0.5"/><polygon points="202.26,177.46 202.80,176.89 204.89,178.79 202.80,180.69 202.26,180.12" fill="#f018f0"/>
<polygon points="203.40,178.41 205.20,176.51 207.29,178.41 205.20,180.31" fill="#fff4ff" stroke="#f018f0" stroke-width="0.5"/><polygon points="204.66,177.08 205.20,176.51 207.29,178.41 205.20,180.31 204.66,179.74" fill="#f018f0"/>
<polygon points="205.80,177.31 207.60,175.41 209.69,177.31 207.60,179.21" fill="#fff4ff" stroke="#f018f0" stroke-width="0.5"/><polygon points="207.06,175.98 207.60,175.41 209.69,177.31 207.60,179.21 207.06,178.64" fill="#f018f0"/>
<polygon points="208.20,174.37 210.00,172.47 212.09,174.37 210.00,176.27" fill="#fff4ff" stroke="#f018f0" stroke-width="0.5"/><polygon points="209.46,173.04 210.00,172.47 212.09,174.37 210.00,176.27 209.46,175.70" fill="#f018f0"/>
<polygon points="210.39,166.86 212.20,164.96 214.29,166.86 212.20,168.76" fill="#fff4ff" stroke="#f018f0" stroke-width="0.5"/><polygon points="211.66,165.53 212.20,164.96 214.29,166.86 212.20,168.76 211.66,168.19" fill="#f018f0"/>
<polygon points="211.49,159.01 213.30,157.11 215.39,159.01 213.30,160.91" fill="#fff4ff" stroke="#f018f0" stroke-width="0.5"/><polygon points="212.76,157.68 213.30,157.11 215.39,159.01 213.30,160.91 212.76,160.34" fill="#f018f0"/>
<polygon points="211.99,150.10 213.80,148.20 215.89,150.10 213.80,152.00" fill="#fff4ff" stroke="#f018f0" stroke-width="0.5"/><polygon points="213.26,148.77 213.80,148.20 215.89,150.10 213.80,152.00 213.26,151.43" fill="#f018f0"/>
<polygon points="212.39,142.40 214.20,140.50 216.29,142.40 214.20,144.30" fill="#fff4ff" stroke="#f018f0" stroke-width="0.5"/><polygon points="213.66,141.07 214.20,140.50 216.29,142.40 214.20,144.30 213.66,143.73" fill="#f018f0"/>
<polygon points="212.89,133.40 214.70,131.50 216.79,133.40 214.70,135.30" fill="#fff4ff" stroke="#f018f0" stroke-width="0.5"/><polygon points="214.16,132.07 214.70,131.50 216.79,133.40 214.70,135.30 214.16,134.73" fill="#f018f0"/>
<polygon points="213.39,124.80 215.20,122.90 217.29,124.80 215.20,126.70" fill="#fff4ff" stroke="#f018f0" stroke-width="0.5"/><polygon points="214.66,123.47 215.20,122.90 217.29,124.80 215.20,126.70 214.66,126.13" fill="#f018f0"/>
<polygon points="213.89,116.80 215.70,114.90 217.79,116.80 215.70,118.70" fill="#fff4ff" stroke="#f018f0" stroke-width="0.5"/><polygon points="215.16,115.47 215.70,114.90 217.79,116.80 215.70,118.70 215.16,118.13" fill="#f018f0"/>
<polygon points="214.49,108.00 216.30,106.10 218.39,108.00 216.30,109.90" fill="#fff4ff" stroke="#f018f0" stroke-width="0.5"/><polygon points="215.76,106.67 216.30,106.10 218.39,108.00 216.30,109.90 215.76,109.33" fill="#f018f0"/>
<polygon points="215.09,100.00 216.90,98.10 218.99,100.00 216.90,101.90" fill="#fff4ff" stroke="#f018f0" stroke-width="0.5"/><polygon points="216.36,98.67 216.90,98.10 218.99,100.00 216.90,101.90 216.36,101.33" fill="#f018f0"/>
<polygon points="215.79,91.69 217.60,89.79 219.69,91.69 217.60,93.59" fill="#fff4ff" stroke="#f018f0" stroke-width="0.5"/><polygon points="217.06,90.36 217.60,89.79 219.69,91.69 217.60,93.59 217.06,93.02" fill="#f018f0"/>
<polygon points="216.49,84.15 218.30,82.25 220.39,84.15 218.30,86.05" fill="#fff4ff" stroke="#f018f0" stroke-width="0.5"/><polygon points="217.76,82.82 218.30,82.25 220.39,84.15 218.30,86.05 217.76,85.48" fill="#f018f0"/>
<polygon points="217.19,75.50 219.00,73.60 221.09,75.50 219.00,77.40" fill="#fff4ff" stroke="#f018f0" stroke-width="0.5"/><polygon points="218.46,74.17 219.00,73.60 221.09,75.50 219.00,77.40 218.46,76.83" fill="#f018f0"/>
<polygon points="217.79,67.70 219.60,65.80 221.69,67.70 219.60,69.60" fill="#fff4ff" stroke="#f018f0" stroke-width="0.5"/><polygon points="219.06,66.37 219.60,65.80 221.69,67.70 219.60,69.60 219.06,69.03" fill="#f018f0"/>
<polygon points="218.39,59.90 220.20,58.00 222.29,59.90 220.20,61.80" fill="#fff4ff" stroke="#f018f0" stroke-width="0.5"/><polygon points="219.66,58.57 220.20,58.00 222.29,59.90 220.20,61.80 219.66,61.23" fill="#f018f0"/>
<polygon points="219.49,52.36 221.30,50.46 223.39,52.36 221.30,54.26" fill="#fff4ff" stroke="#f018f0" stroke-width="0.5"/><polygon points="220.76,51.03 221.30,50.46 223.39,52.36 221.30,54.26 220.76,53.69" fill="#f018f0"/>
<polygon points="221.39,45.03 223.20,43.13 225.29,45.03 223.20,46.93" fill="#fff4ff" stroke="#f018f0" stroke-width="0.5"/><polygon points="222.66,43.70 223.20,43.13 225.29,45.03 223.20,46.93 222.66,46.36" fill="#f018f0"/>
<polygon points="224.49,52.09 226.30,50.19 228.39,52.09 226.30,53.99" fill="#fff4ff" stroke="#f018f0" stroke-width="0.5"/><polygon points="225.76,50.76 226.30,50.19 228.39,52.09 226.30,53.99 225.76,53.42" fill="#f018f0"/>
<polygon points="225.19,60.40 227.00,58.50 229.09,60.40 227.00,62.30" fill="#fff4ff" stroke="#f018f0" stroke-width="0.5"/><polygon points="226.46,59.07 227.00,58.50 229.09,60.40 227.00,62.30 226.46,61.73" fill="#f018f0"/>
<polygon points="225.69,68.40 227.50,66.50 229.59,68.40 227.50,70.30" fill="#fff4ff" stroke="#f018f0" stroke-width="0.5"/><polygon points="226.96,67.07 227.50,66.50 229.59,68.40 227.50,70.30 226.96,69.73" fill="#f018f0"/>
<polygon points="226.19,77.00 228.00,75.10 230.09,77.00 228.00,78.90" fill="#fff4ff" stroke="#f018f0" stroke-width="0.5"/><polygon points="227.46,75.67 228.00,75.10 230.09,77.00 228.00,78.90 227.46,78.33" fill="#f018f0"/>
<polygon points="226.69,85.78 228.50,83.88 230.59,85.78 228.50,87.68" fill="#fff4ff" stroke="#f018f0" stroke-width="0.5"/><polygon points="227.96,84.45 228.50,83.88 230.59,85.78 228.50,87.68 227.96,87.11" fill="#f018f0"/>
<polygon points="227.19,94.69 229.00,92.79 231.09,94.69 229.00,96.59" fill="#fff4ff" stroke="#f018f0" stroke-width="0.5"/><polygon points="228.46,93.36 229.00,92.79 231.09,94.69 229.00,96.59 228.46,96.02" fill="#f018f0"/>
<polygon points="227.69,103.60 229.50,101.70 231.59,103.60 229.50,105.50" fill="#fff4ff" stroke="#f018f0" stroke-width="0.5"/><polygon points="228.96,102.27 229.50,101.70 231.59,103.60 229.50,105.50 228.96,104.93" fill="#f018f0"/>
<polygon points="228.09,111.40 229.90,109.50 231.99,111.40 229.90,113.30" fill="#fff4ff" stroke="#f018f0" stroke-width="0.5"/><polygon points="229.36,110.07 229.90,109.50 231.99,111.40 229.90,113.30 229.36,112.73" fill="#f018f0"/>
<polygon points="228.49,119.20 230.30,117.30 232.39,119.20 230.30,121.10" fill="#fff4ff" stroke="#f018f0" stroke-width="0.5"/><polygon points="229.76,117.87 230.30,117.30 232.39,119.20 230.30,121.10 229.76,120.53" fill="#f018f0"/>
<polygon points="228.89,127.00 230.70,125.10 232.79,127.00 230.70,128.90" fill="#fff4ff" stroke="#f018f0" stroke-width="0.5"/><polygon points="230.16,125.67 230.70,125.10 232.79,127.00 230.70,128.90 230.16,128.33" fill="#f018f0"/>
<polygon points="229.39,135.57 231.20,133.67 233.29,135.57 231.20,137.47" fill="#fff4ff" stroke="#f018f0" stroke-width="0.5"/><polygon points="230.66,134.24 231.20,133.67 233.29,135.57 231.20,137.47 230.66,136.90" fill="#f018f0"/>
<polygon points="230.09,143.87 231.90,141.97 233.99,143.87 231.90,145.77" fill="#fff4ff" stroke="#f018f0" stroke-width="0.5"/><polygon points="231.36,142.54 231.90,141.97 233.99,143.87 231.90,145.77 231.36,145.20" fill="#f018f0"/>
<polygon points="230.99,151.93 232.80,150.03 234.89,151.93 232.80,153.83" fill="#fff4ff" stroke="#f018f0" stroke-width="0.5"/><polygon points="232.26,150.60 232.80,150.03 234.89,151.93 232.80,153.83 232.26,153.26" fill="#f018f0"/>
<polygon points="232.29,159.90 234.10,158.00 236.19,159.90 234.10,161.80" fill="#fff4ff" stroke="#f018f0" stroke-width="0.5"/><polygon points="233.56,158.57 234.10,158.00 236.19,159.90 234.10,161.80 233.56,161.23" fill="#f018f0"/>
<polygon points="233.09,162.20 234.90,160.30 236.99,162.20 234.90,164.10" fill="#fff4ff" stroke="#f018f0" stroke-width="0.5"/><polygon points="234.36,160.87 234.90,160.30 236.99,162.20 234.90,164.10 234.36,163.53" fill="#f018f0"/>
<line x1="53" y1="15.9" x2="72.6" y2="15.9" stroke="#000" stroke-width="1.45"/>
<circle cx="62.8" cy="15.9" r="2.1" fill="url(#gK)"/>
<text x="74.5" y="18.7" font-size="8.3">0% O<tspan font-size="5.6" dy="1.7">2</tspan></text>
<line x1="53" y1="27.8" x2="72.6" y2="27.8" stroke="#e31a1c" stroke-width="1.45"/>
<polygon points="62.8,25.8 60.8,29.4 64.8,29.4" fill="#ffd9d4" stroke="#e31a1c" stroke-width="0.6"/><polygon points="62.8,25.8 61.4,28.4 64.2,28.4" fill="#e31a1c"/>
<text x="74.5" y="30.6" font-size="8.3">5% O<tspan font-size="5.6" dy="1.7">2</tspan></text>
<line x1="53" y1="40.1" x2="72.6" y2="40.1" stroke="#1414e6" stroke-width="1.45"/>
<polygon points="62.8,42.1 60.8,38.5 64.8,38.5" fill="#dcdcff" stroke="#1414e6" stroke-width="0.6"/><polygon points="60.8,38.5 64.8,38.5 63.6,40.7 62.0,40.7" fill="#1414e6"/>
<text x="74.5" y="42.9" font-size="8.3">10% O<tspan font-size="5.6" dy="1.7">2</tspan></text>
<line x1="53" y1="52.4" x2="72.6" y2="52.4" stroke="#1a8c1a" stroke-width="1.45"/>
<circle cx="62.8" cy="52.4" r="2.1" fill="url(#gG)"/>
<text x="74.5" y="55.2" font-size="8.3">14% O<tspan font-size="5.6" dy="1.7">2</tspan></text>
<line x1="53" y1="64.8" x2="72.6" y2="64.8" stroke="#f018f0" stroke-width="1.45"/>
<polygon points="60.90,64.80 62.80,62.80 65.00,64.80 62.80,66.80" fill="#fff4ff" stroke="#f018f0" stroke-width="0.5"/><polygon points="62.23,63.40 62.80,62.80 65.00,64.80 62.80,66.80 62.23,66.20" fill="#f018f0"/>
<text x="74.5" y="67.6" font-size="8.3">18% O<tspan font-size="5.6" dy="1.7">2</tspan></text>
</g>
<g id="panelB">
<rect x="339.2" y="27.0" width="17.8" height="157.9" fill="url(#b1)"/>
<rect x="374.7" y="32.7" width="17.8" height="152.2" fill="url(#b2)"/>
<rect x="409.7" y="36.6" width="17.8" height="148.3" fill="url(#b3)"/>
<rect x="445.6" y="37.4" width="17.8" height="147.5" fill="url(#b4)"/>
<rect x="481.2" y="37.4" width="17.8" height="147.5" fill="url(#b5)"/>
<rect x="516.7" y="37.4" width="17.8" height="147.5" fill="url(#b6)"/>
<rect x="330.4" y="10.9" width="212.89999999999998" height="174.0" fill="none" stroke="#3a3a3a" stroke-width="0.9"/>
<line x1="330.4" y1="184.9" x2="327.79999999999995" y2="184.9" stroke="#3a3a3a" stroke-width="0.9"/>
<text x="327.0" y="187.1" font-size="8.2" text-anchor="end" >0</text>
<line x1="330.4" y1="163.2" x2="329.0" y2="163.2" stroke="#3a3a3a" stroke-width="0.9"/>
<line x1="330.4" y1="141.4" x2="327.79999999999995" y2="141.4" stroke="#3a3a3a" stroke-width="0.9"/>
<text x="327.0" y="143.6" font-size="8.2" text-anchor="end" >10</text>
<line x1="330.4" y1="119.7" x2="329.0" y2="119.7" stroke="#3a3a3a" stroke-width="0.9"/>
<line x1="330.4" y1="97.9" x2="327.79999999999995" y2="97.9" stroke="#3a3a3a" stroke-width="0.9"/>
<text x="327.0" y="100.1" font-size="8.2" text-anchor="end" >20</text>
<line x1="330.4" y1="76.2" x2="329.0" y2="76.2" stroke="#3a3a3a" stroke-width="0.9"/>
<line x1="330.4" y1="54.4" x2="327.79999999999995" y2="54.4" stroke="#3a3a3a" stroke-width="0.9"/>
<text x="327.0" y="56.6" font-size="8.2" text-anchor="end" >30</text>
<line x1="330.4" y1="32.7" x2="329.0" y2="32.7" stroke="#3a3a3a" stroke-width="0.9"/>
<line x1="330.4" y1="10.9" x2="327.79999999999995" y2="10.9" stroke="#3a3a3a" stroke-width="0.9"/>
<text x="327.0" y="13.1" font-size="8.2" text-anchor="end" >40</text>
<line x1="348.1" y1="184.9" x2="348.1" y2="187.5" stroke="#3a3a3a" stroke-width="0.9"/>
<text x="348.7" y="195.9" font-size="8.2" text-anchor="middle" >0</text>
<line x1="383.6" y1="184.9" x2="383.6" y2="187.5" stroke="#3a3a3a" stroke-width="0.9"/>
<text x="384.2" y="195.9" font-size="8.2" text-anchor="middle" >2.5</text>
<line x1="418.6" y1="184.9" x2="418.6" y2="187.5" stroke="#3a3a3a" stroke-width="0.9"/>
<text x="419.2" y="195.9" font-size="8.2" text-anchor="middle" >4.5</text>
<line x1="454.5" y1="184.9" x2="454.5" y2="187.5" stroke="#3a3a3a" stroke-width="0.9"/>
<text x="455.1" y="195.9" font-size="8.2" text-anchor="middle" >6.5</text>
<line x1="490.1" y1="184.9" x2="490.1" y2="187.5" stroke="#3a3a3a" stroke-width="0.9"/>
<text x="490.7" y="195.9" font-size="8.2" text-anchor="middle" >8.5</text>
<line x1="525.6" y1="184.9" x2="525.6" y2="187.5" stroke="#3a3a3a" stroke-width="0.9"/>
<text x="526.2" y="195.9" font-size="8.2" text-anchor="middle" >10.5</text>
<text x="439" y="207.0" font-size="9.1" text-anchor="middle">CO<tspan font-size="6.3" dy="1.8">2</tspan><tspan dy="-1.8"> concentration (%)</tspan></text>
<text transform="translate(314.0,102.4) rotate(-90)" font-size="9.1" text-anchor="middle">NO<tspan font-size="6.3" dy="1.8">X</tspan><tspan dy="-1.8"> adsorption capacity (μmol/g)</tspan></text>
<text x="288.0" y="16.9" font-size="16" text-anchor="start" >(b)</text>
<path d="M348.1,21.3 C354.0,22.3 371.9,25.4 383.6,27.0 C395.4,28.6 406.8,29.9 418.6,30.7 C430.4,31.5 442.6,31.6 454.5,31.8 C466.4,32.0 478.2,31.8 490.1,31.8 C502.0,31.7 519.7,31.6 525.6,31.6" fill="none" stroke="#1a8c1a" stroke-width="1.4"/>
<line x1="348.1" y1="16.6" x2="348.1" y2="26.1" stroke="#1a8c1a" stroke-width="0.8"/>
<line x1="346.6" y1="16.6" x2="349.6" y2="16.6" stroke="#1a8c1a" stroke-width="0.8"/>
<line x1="346.6" y1="26.1" x2="349.6" y2="26.1" stroke="#1a8c1a" stroke-width="0.8"/>
<circle cx="348.1" cy="21.3" r="2.2" fill="url(#gG)"/>
<line x1="383.6" y1="23.1" x2="383.6" y2="30.9" stroke="#1a8c1a" stroke-width="0.8"/>
<line x1="382.1" y1="23.1" x2="385.1" y2="23.1" stroke="#1a8c1a" stroke-width="0.8"/>
<line x1="382.1" y1="30.9" x2="385.1" y2="30.9" stroke="#1a8c1a" stroke-width="0.8"/>
<circle cx="383.6" cy="27.0" r="2.2" fill="url(#gG)"/>
<line x1="418.6" y1="27.6" x2="418.6" y2="33.7" stroke="#1a8c1a" stroke-width="0.8"/>
<line x1="417.1" y1="27.6" x2="420.1" y2="27.6" stroke="#1a8c1a" stroke-width="0.8"/>
<line x1="417.1" y1="33.7" x2="420.1" y2="33.7" stroke="#1a8c1a" stroke-width="0.8"/>
<circle cx="418.6" cy="30.7" r="2.2" fill="url(#gG)"/>
<line x1="454.5" y1="28.3" x2="454.5" y2="35.3" stroke="#1a8c1a" stroke-width="0.8"/>
<line x1="453.0" y1="28.3" x2="456.0" y2="28.3" stroke="#1a8c1a" stroke-width="0.8"/>
<line x1="453.0" y1="35.3" x2="456.0" y2="35.3" stroke="#1a8c1a" stroke-width="0.8"/>
<circle cx="454.5" cy="31.8" r="2.2" fill="url(#gG)"/>
<line x1="490.1" y1="27.9" x2="490.1" y2="35.7" stroke="#1a8c1a" stroke-width="0.8"/>
<line x1="488.6" y1="27.9" x2="491.6" y2="27.9" stroke="#1a8c1a" stroke-width="0.8"/>
<line x1="488.6" y1="35.7" x2="491.6" y2="35.7" stroke="#1a8c1a" stroke-width="0.8"/>
<circle cx="490.1" cy="31.8" r="2.2" fill="url(#gG)"/>
<line x1="525.6" y1="28.1" x2="525.6" y2="35.0" stroke="#1a8c1a" stroke-width="0.8"/>
<line x1="524.1" y1="28.1" x2="527.1" y2="28.1" stroke="#1a8c1a" stroke-width="0.8"/>
<line x1="524.1" y1="35.0" x2="527.1" y2="35.0" stroke="#1a8c1a" stroke-width="0.8"/>
<circle cx="525.6" cy="31.6" r="2.2" fill="url(#gG)"/>
</g>
<g id="panelC">
<rect x="191.7" y="228.05" width="212.45" height="171.75" fill="none" stroke="#3a3a3a" stroke-width="0.9"/>
<line x1="198.4" y1="399.8" x2="198.4" y2="402.40000000000003" stroke="#3a3a3a" stroke-width="0.9"/>
<text x="198.4" y="409.4" font-size="8.2" text-anchor="middle" >0</text>
<line x1="215.6" y1="399.8" x2="215.6" y2="401.2" stroke="#3a3a3a" stroke-width="0.9"/>
<line x1="232.7" y1="399.8" x2="232.7" y2="402.40000000000003" stroke="#3a3a3a" stroke-width="0.9"/>
<text x="232.7" y="409.4" font-size="8.2" text-anchor="middle" >500</text>
<line x1="249.9" y1="399.8" x2="249.9" y2="401.2" stroke="#3a3a3a" stroke-width="0.9"/>
<line x1="267.0" y1="399.8" x2="267.0" y2="402.40000000000003" stroke="#3a3a3a" stroke-width="0.9"/>
<text x="267.0" y="409.4" font-size="8.2" text-anchor="middle" >1000</text>
<line x1="284.2" y1="399.8" x2="284.2" y2="401.2" stroke="#3a3a3a" stroke-width="0.9"/>
<line x1="301.3" y1="399.8" x2="301.3" y2="402.40000000000003" stroke="#3a3a3a" stroke-width="0.9"/>
<text x="301.3" y="409.4" font-size="8.2" text-anchor="middle" >1500</text>
<line x1="318.4" y1="399.8" x2="318.4" y2="401.2" stroke="#3a3a3a" stroke-width="0.9"/>
<line x1="335.6" y1="399.8" x2="335.6" y2="402.40000000000003" stroke="#3a3a3a" stroke-width="0.9"/>
<text x="335.6" y="409.4" font-size="8.2" text-anchor="middle" >2000</text>
<line x1="352.7" y1="399.8" x2="352.7" y2="401.2" stroke="#3a3a3a" stroke-width="0.9"/>
<line x1="369.9" y1="399.8" x2="369.9" y2="402.40000000000003" stroke="#3a3a3a" stroke-width="0.9"/>
<text x="369.9" y="409.4" font-size="8.2" text-anchor="middle" >2500</text>
<line x1="387.0" y1="399.8" x2="387.0" y2="401.2" stroke="#3a3a3a" stroke-width="0.9"/>
<line x1="404.2" y1="399.8" x2="404.2" y2="402.40000000000003" stroke="#3a3a3a" stroke-width="0.9"/>
<text x="404.2" y="409.4" font-size="8.2" text-anchor="middle" >3000</text>
<line x1="191.7" y1="392.8" x2="189.1" y2="392.8" stroke="#3a3a3a" stroke-width="0.9"/>
<text x="188.4" y="395.4" font-size="8.2" text-anchor="end" >0</text>
<line x1="191.7" y1="376.3" x2="190.29999999999998" y2="376.3" stroke="#3a3a3a" stroke-width="0.9"/>
<line x1="191.7" y1="359.8" x2="189.1" y2="359.8" stroke="#3a3a3a" stroke-width="0.9"/>
<text x="188.4" y="362.4" font-size="8.2" text-anchor="end" >500</text>
<line x1="191.7" y1="343.3" x2="190.29999999999998" y2="343.3" stroke="#3a3a3a" stroke-width="0.9"/>
<line x1="191.7" y1="326.9" x2="189.1" y2="326.9" stroke="#3a3a3a" stroke-width="0.9"/>
<text x="188.4" y="329.5" font-size="8.2" text-anchor="end" >1000</text>
<line x1="191.7" y1="310.4" x2="190.29999999999998" y2="310.4" stroke="#3a3a3a" stroke-width="0.9"/>
<line x1="191.7" y1="293.9" x2="189.1" y2="293.9" stroke="#3a3a3a" stroke-width="0.9"/>
<text x="188.4" y="296.5" font-size="8.2" text-anchor="end" >1500</text>
<line x1="191.7" y1="277.5" x2="190.29999999999998" y2="277.5" stroke="#3a3a3a" stroke-width="0.9"/>
<line x1="191.7" y1="261.0" x2="189.1" y2="261.0" stroke="#3a3a3a" stroke-width="0.9"/>
<text x="188.4" y="263.6" font-size="8.2" text-anchor="end" >2000</text>
<line x1="191.7" y1="244.5" x2="190.29999999999998" y2="244.5" stroke="#3a3a3a" stroke-width="0.9"/>
<line x1="191.7" y1="228.1" x2="189.1" y2="228.1" stroke="#3a3a3a" stroke-width="0.9"/>
<text x="188.4" y="230.7" font-size="8.2" text-anchor="end" >2500</text>
<text x="312.7" y="419.6" font-size="9" text-anchor="middle" >Time(s)</text>
<text transform="translate(166.4,313.6) rotate(-90)" font-size="9" text-anchor="middle">NO<tspan font-size="6.3" dy="1.8">X</tspan><tspan dy="-1.8"> Concentration (ppm)</tspan></text>
<text x="142.0" y="234.4" font-size="16" text-anchor="start" >(c)</text>
<polyline points="198.1,392.3 200.3,392.3 208.5,392.3 216.6,392.3 224.8,392.3 232.9,392.3 241.1,392.3 249.2,392.3 257.4,392.3 265.5,392.3 273.7,392.3 281.8,392.3 290.0,392.3 298.1,392.3 306.2,392.3 314.4,392.3 322.6,392.3 330.7,392.3 338.9,392.3 347.0,392.3 347.3,391.3 348.6,385.1 349.7,370.6 351.0,349.2 352.0,327.4 352.9,306.0 353.5,285.3 354.8,270.8 355.8,267.4 357.6,264.7 359.0,266.0 360.1,268.9 362.0,284.0 363.7,309.0 366.1,329.8 368.0,347.4 369.9,360.2 372.2,370.0 374.6,375.3 377.5,376.6 380.8,377.5 384.6,378.1" fill="none" stroke="#1a8c1a" stroke-width="1.4" stroke-linejoin="round"/>
<circle cx="198.1" cy="392.3" r="2.0" fill="url(#gG)"/>
<circle cx="200.3" cy="392.3" r="2.0" fill="url(#gG)"/>
<circle cx="208.5" cy="392.3" r="2.0" fill="url(#gG)"/>
<circle cx="216.6" cy="392.3" r="2.0" fill="url(#gG)"/>
<circle cx="224.8" cy="392.3" r="2.0" fill="url(#gG)"/>
<circle cx="232.9" cy="392.3" r="2.0" fill="url(#gG)"/>
<circle cx="241.1" cy="392.3" r="2.0" fill="url(#gG)"/>
<circle cx="249.2" cy="392.3" r="2.0" fill="url(#gG)"/>
<circle cx="257.4" cy="392.3" r="2.0" fill="url(#gG)"/>
<circle cx="265.5" cy="392.3" r="2.0" fill="url(#gG)"/>
<circle cx="273.7" cy="392.3" r="2.0" fill="url(#gG)"/>
<circle cx="281.8" cy="392.3" r="2.0" fill="url(#gG)"/>
<circle cx="290.0" cy="392.3" r="2.0" fill="url(#gG)"/>
<circle cx="298.1" cy="392.3" r="2.0" fill="url(#gG)"/>
<circle cx="306.2" cy="392.3" r="2.0" fill="url(#gG)"/>
<circle cx="314.4" cy="392.3" r="2.0" fill="url(#gG)"/>
<circle cx="322.6" cy="392.3" r="2.0" fill="url(#gG)"/>
<circle cx="330.7" cy="392.3" r="2.0" fill="url(#gG)"/>
<circle cx="338.9" cy="392.3" r="2.0" fill="url(#gG)"/>
<circle cx="347.0" cy="392.3" r="2.0" fill="url(#gG)"/>
<circle cx="347.3" cy="391.3" r="2.0" fill="url(#gG)"/>
<circle cx="348.6" cy="385.1" r="2.0" fill="url(#gG)"/>
<circle cx="349.7" cy="370.6" r="2.0" fill="url(#gG)"/>
<circle cx="351.0" cy="349.2" r="2.0" fill="url(#gG)"/>
<circle cx="352.0" cy="327.4" r="2.0" fill="url(#gG)"/>
<circle cx="352.9" cy="306.0" r="2.0" fill="url(#gG)"/>
<circle cx="353.5" cy="285.3" r="2.0" fill="url(#gG)"/>
<circle cx="354.8" cy="270.8" r="2.0" fill="url(#gG)"/>
<circle cx="355.8" cy="267.4" r="2.0" fill="url(#gG)"/>
<circle cx="357.6" cy="264.7" r="2.0" fill="url(#gG)"/>
<circle cx="359.0" cy="266.0" r="2.0" fill="url(#gG)"/>
<circle cx="360.1" cy="268.9" r="2.0" fill="url(#gG)"/>
<circle cx="362.0" cy="284.0" r="2.0" fill="url(#gG)"/>
<circle cx="363.7" cy="309.0" r="2.0" fill="url(#gG)"/>
<circle cx="366.1" cy="329.8" r="2.0" fill="url(#gG)"/>
<circle cx="368.0" cy="347.4" r="2.0" fill="url(#gG)"/>
<circle cx="369.9" cy="360.2" r="2.0" fill="url(#gG)"/>
<circle cx="372.2" cy="370.0" r="2.0" fill="url(#gG)"/>
<circle cx="374.6" cy="375.3" r="2.0" fill="url(#gG)"/>
<circle cx="377.5" cy="376.6" r="2.0" fill="url(#gG)"/>
<circle cx="380.8" cy="377.5" r="2.0" fill="url(#gG)"/>
<circle cx="384.6" cy="378.1" r="2.0" fill="url(#gG)"/>
<polyline points="198.1,392.2 302.3,392.2 305.1,390.6 307.0,386.5 308.3,372.5 309.4,346.0 310.2,314.0 311.6,286.5 312.5,264.3 313.9,259.2 314.3,255.3 316.7,266.2 317.8,287.2 318.7,305.3 320.6,330.0 321.8,342.6 323.0,358.7 323.9,370.0 325.8,374.2 329.6,376.2 335.3,378.0" fill="none" stroke="#e31a1c" stroke-width="1.4" stroke-linejoin="round"/>
<polygon points="204.5,390.3 202.7,393.5 206.3,393.5" fill="#ffd9d4" stroke="#e31a1c" stroke-width="0.6"/><polygon points="204.5,390.3 203.2,392.6 205.8,392.6" fill="#e31a1c"/>
<polygon points="212.7,390.3 210.8,393.5 214.5,393.5" fill="#ffd9d4" stroke="#e31a1c" stroke-width="0.6"/><polygon points="212.7,390.3 211.4,392.6 213.9,392.6" fill="#e31a1c"/>
<polygon points="220.8,390.3 219.0,393.5 222.6,393.5" fill="#ffd9d4" stroke="#e31a1c" stroke-width="0.6"/><polygon points="220.8,390.3 219.5,392.6 222.1,392.6" fill="#e31a1c"/>
<polygon points="228.9,390.3 227.1,393.5 230.8,393.5" fill="#ffd9d4" stroke="#e31a1c" stroke-width="0.6"/><polygon points="228.9,390.3 227.7,392.6 230.2,392.6" fill="#e31a1c"/>
<polygon points="237.1,390.3 235.3,393.5 238.9,393.5" fill="#ffd9d4" stroke="#e31a1c" stroke-width="0.6"/><polygon points="237.1,390.3 235.8,392.6 238.4,392.6" fill="#e31a1c"/>
<polygon points="245.2,390.3 243.4,393.5 247.1,393.5" fill="#ffd9d4" stroke="#e31a1c" stroke-width="0.6"/><polygon points="245.2,390.3 244.0,392.6 246.5,392.6" fill="#e31a1c"/>
<polygon points="253.4,390.3 251.6,393.5 255.2,393.5" fill="#ffd9d4" stroke="#e31a1c" stroke-width="0.6"/><polygon points="253.4,390.3 252.1,392.6 254.7,392.6" fill="#e31a1c"/>
<polygon points="261.6,390.3 259.8,393.5 263.4,393.5" fill="#ffd9d4" stroke="#e31a1c" stroke-width="0.6"/><polygon points="261.6,390.3 260.3,392.6 262.8,392.6" fill="#e31a1c"/>
<polygon points="269.7,390.3 267.9,393.5 271.5,393.5" fill="#ffd9d4" stroke="#e31a1c" stroke-width="0.6"/><polygon points="269.7,390.3 268.4,392.6 271.0,392.6" fill="#e31a1c"/>
<polygon points="277.9,390.3 276.1,393.5 279.7,393.5" fill="#ffd9d4" stroke="#e31a1c" stroke-width="0.6"/><polygon points="277.9,390.3 276.6,392.6 279.1,392.6" fill="#e31a1c"/>
<polygon points="286.0,390.3 284.2,393.5 287.8,393.5" fill="#ffd9d4" stroke="#e31a1c" stroke-width="0.6"/><polygon points="286.0,390.3 284.7,392.6 287.3,392.6" fill="#e31a1c"/>
<polygon points="294.1,390.3 292.3,393.5 295.9,393.5" fill="#ffd9d4" stroke="#e31a1c" stroke-width="0.6"/><polygon points="294.1,390.3 292.9,392.6 295.4,392.6" fill="#e31a1c"/>
<polygon points="302.3,390.4 300.5,393.6 304.1,393.6" fill="#ffd9d4" stroke="#e31a1c" stroke-width="0.6"/><polygon points="302.3,390.4 301.0,392.7 303.6,392.7" fill="#e31a1c"/>
<polygon points="305.1,388.8 303.3,392.0 306.9,392.0" fill="#ffd9d4" stroke="#e31a1c" stroke-width="0.6"/><polygon points="305.1,388.8 303.8,391.1 306.4,391.1" fill="#e31a1c"/>
<polygon points="307.0,384.7 305.2,387.9 308.8,387.9" fill="#ffd9d4" stroke="#e31a1c" stroke-width="0.6"/><polygon points="307.0,384.7 305.7,387.0 308.3,387.0" fill="#e31a1c"/>
<polygon points="308.3,370.7 306.5,373.9 310.1,373.9" fill="#ffd9d4" stroke="#e31a1c" stroke-width="0.6"/><polygon points="308.3,370.7 307.0,373.0 309.6,373.0" fill="#e31a1c"/>
<polygon points="309.4,344.2 307.6,347.4 311.2,347.4" fill="#ffd9d4" stroke="#e31a1c" stroke-width="0.6"/><polygon points="309.4,344.2 308.1,346.5 310.7,346.5" fill="#e31a1c"/>
<polygon points="310.2,312.2 308.4,315.4 312.0,315.4" fill="#ffd9d4" stroke="#e31a1c" stroke-width="0.6"/><polygon points="310.2,312.2 308.9,314.5 311.5,314.5" fill="#e31a1c"/>
<polygon points="311.6,284.7 309.8,287.9 313.4,287.9" fill="#ffd9d4" stroke="#e31a1c" stroke-width="0.6"/><polygon points="311.6,284.7 310.3,287.0 312.9,287.0" fill="#e31a1c"/>
<polygon points="312.5,262.5 310.7,265.7 314.3,265.7" fill="#ffd9d4" stroke="#e31a1c" stroke-width="0.6"/><polygon points="312.5,262.5 311.2,264.8 313.8,264.8" fill="#e31a1c"/>
<polygon points="313.9,257.4 312.1,260.6 315.7,260.6" fill="#ffd9d4" stroke="#e31a1c" stroke-width="0.6"/><polygon points="313.9,257.4 312.6,259.7 315.2,259.7" fill="#e31a1c"/>
<polygon points="314.3,253.5 312.5,256.7 316.1,256.7" fill="#ffd9d4" stroke="#e31a1c" stroke-width="0.6"/><polygon points="314.3,253.5 313.0,255.8 315.6,255.8" fill="#e31a1c"/>
<polygon points="316.7,264.4 314.9,267.6 318.5,267.6" fill="#ffd9d4" stroke="#e31a1c" stroke-width="0.6"/><polygon points="316.7,264.4 315.4,266.7 318.0,266.7" fill="#e31a1c"/>
<polygon points="317.8,285.4 316.0,288.6 319.6,288.6" fill="#ffd9d4" stroke="#e31a1c" stroke-width="0.6"/><polygon points="317.8,285.4 316.5,287.7 319.1,287.7" fill="#e31a1c"/>
<polygon points="318.7,303.5 316.9,306.7 320.5,306.7" fill="#ffd9d4" stroke="#e31a1c" stroke-width="0.6"/><polygon points="318.7,303.5 317.4,305.8 320.0,305.8" fill="#e31a1c"/>
<polygon points="320.6,328.2 318.8,331.4 322.4,331.4" fill="#ffd9d4" stroke="#e31a1c" stroke-width="0.6"/><polygon points="320.6,328.2 319.3,330.5 321.9,330.5" fill="#e31a1c"/>
<polygon points="321.8,340.8 320.0,344.0 323.6,344.0" fill="#ffd9d4" stroke="#e31a1c" stroke-width="0.6"/><polygon points="321.8,340.8 320.5,343.1 323.1,343.1" fill="#e31a1c"/>
<polygon points="323.0,356.9 321.2,360.1 324.8,360.1" fill="#ffd9d4" stroke="#e31a1c" stroke-width="0.6"/><polygon points="323.0,356.9 321.7,359.2 324.3,359.2" fill="#e31a1c"/>
<polygon points="323.9,368.2 322.1,371.4 325.7,371.4" fill="#ffd9d4" stroke="#e31a1c" stroke-width="0.6"/><polygon points="323.9,368.2 322.6,370.5 325.2,370.5" fill="#e31a1c"/>
<polygon points="324.2,368.9 322.4,372.1 326.0,372.1" fill="#ffd9d4" stroke="#e31a1c" stroke-width="0.6"/><polygon points="324.2,368.9 322.9,371.2 325.5,371.2" fill="#e31a1c"/>
<polygon points="324.8,370.1 322.9,373.3 326.6,373.3" fill="#ffd9d4" stroke="#e31a1c" stroke-width="0.6"/><polygon points="324.8,370.1 323.5,372.4 326.0,372.4" fill="#e31a1c"/>
<polygon points="325.3,371.3 323.5,374.5 327.1,374.5" fill="#ffd9d4" stroke="#e31a1c" stroke-width="0.6"/><polygon points="325.3,371.3 324.0,373.6 326.6,373.6" fill="#e31a1c"/>
<polygon points="325.9,372.4 324.1,375.7 327.7,375.7" fill="#ffd9d4" stroke="#e31a1c" stroke-width="0.6"/><polygon points="325.9,372.4 324.6,374.8 327.1,374.8" fill="#e31a1c"/>
<polygon points="326.4,372.7 324.6,376.0 328.2,376.0" fill="#ffd9d4" stroke="#e31a1c" stroke-width="0.6"/><polygon points="326.4,372.7 325.1,375.1 327.7,375.1" fill="#e31a1c"/>
<polygon points="327.0,373.0 325.2,376.2 328.8,376.2" fill="#ffd9d4" stroke="#e31a1c" stroke-width="0.6"/><polygon points="327.0,373.0 325.7,375.3 328.2,375.3" fill="#e31a1c"/>
<polygon points="327.5,373.3 325.7,376.5 329.3,376.5" fill="#ffd9d4" stroke="#e31a1c" stroke-width="0.6"/><polygon points="327.5,373.3 326.2,375.6 328.8,375.6" fill="#e31a1c"/>
<polygon points="328.1,373.6 326.3,376.8 329.9,376.8" fill="#ffd9d4" stroke="#e31a1c" stroke-width="0.6"/><polygon points="328.1,373.6 326.8,375.9 329.3,375.9" fill="#e31a1c"/>
<polygon points="328.6,373.9 326.8,377.1 330.4,377.1" fill="#ffd9d4" stroke="#e31a1c" stroke-width="0.6"/><polygon points="328.6,373.9 327.3,376.2 329.9,376.2" fill="#e31a1c"/>
<polygon points="329.2,374.2 327.4,377.4 331.0,377.4" fill="#ffd9d4" stroke="#e31a1c" stroke-width="0.6"/><polygon points="329.2,374.2 327.9,376.5 330.4,376.5" fill="#e31a1c"/>
<polygon points="329.7,374.4 327.9,377.7 331.5,377.7" fill="#ffd9d4" stroke="#e31a1c" stroke-width="0.6"/><polygon points="329.7,374.4 328.4,376.8 331.0,376.8" fill="#e31a1c"/>
<polygon points="330.3,374.6 328.5,377.8 332.1,377.8" fill="#ffd9d4" stroke="#e31a1c" stroke-width="0.6"/><polygon points="330.3,374.6 329.0,376.9 331.5,376.9" fill="#e31a1c"/>
<polygon points="330.8,374.8 329.0,378.0 332.6,378.0" fill="#ffd9d4" stroke="#e31a1c" stroke-width="0.6"/><polygon points="330.8,374.8 329.5,377.1 332.1,377.1" fill="#e31a1c"/>
<polygon points="331.4,375.0 329.6,378.2 333.2,378.2" fill="#ffd9d4" stroke="#e31a1c" stroke-width="0.6"/><polygon points="331.4,375.0 330.1,377.3 332.6,377.3" fill="#e31a1c"/>
<polygon points="331.9,375.1 330.1,378.4 333.7,378.4" fill="#ffd9d4" stroke="#e31a1c" stroke-width="0.6"/><polygon points="331.9,375.1 330.6,377.5 333.2,377.5" fill="#e31a1c"/>
<polygon points="332.5,375.3 330.7,378.5 334.3,378.5" fill="#ffd9d4" stroke="#e31a1c" stroke-width="0.6"/><polygon points="332.5,375.3 331.2,377.6 333.7,377.6" fill="#e31a1c"/>
<polygon points="333.0,375.5 331.2,378.7 334.8,378.7" fill="#ffd9d4" stroke="#e31a1c" stroke-width="0.6"/><polygon points="333.0,375.5 331.7,377.8 334.3,377.8" fill="#e31a1c"/>
<polygon points="333.6,375.6 331.8,378.9 335.4,378.9" fill="#ffd9d4" stroke="#e31a1c" stroke-width="0.6"/><polygon points="333.6,375.6 332.3,378.0 334.8,378.0" fill="#e31a1c"/>
<polygon points="334.1,375.8 332.3,379.1 335.9,379.1" fill="#ffd9d4" stroke="#e31a1c" stroke-width="0.6"/><polygon points="334.1,375.8 332.8,378.2 335.4,378.2" fill="#e31a1c"/>
<polygon points="334.7,376.0 332.9,379.2 336.5,379.2" fill="#ffd9d4" stroke="#e31a1c" stroke-width="0.6"/><polygon points="334.7,376.0 333.4,378.3 335.9,378.3" fill="#e31a1c"/>
<polygon points="335.2,376.2 333.4,379.4 337.0,379.4" fill="#ffd9d4" stroke="#e31a1c" stroke-width="0.6"/><polygon points="335.2,376.2 333.9,378.5 336.5,378.5" fill="#e31a1c"/>
<polygon points="335.3,376.2 333.5,379.4 337.1,379.4" fill="#ffd9d4" stroke="#e31a1c" stroke-width="0.6"/><polygon points="335.3,376.2 334.0,378.5 336.6,378.5" fill="#e31a1c"/>
<polyline points="198.1,392.4 266.7,392.3 269.5,389.8 271.4,382.3 272.4,367.0 272.8,339.0 273.1,315.5 273.4,290.0 273.7,270.0 274.4,262.0 275.2,255.3 276.4,258.5 277.1,266.0 277.4,283.0 278.0,292.0 279.3,323.0 280.3,348.3 281.8,367.2 284.6,374.7 288.4,377.5 293.1,378.9" fill="none" stroke="#1414e6" stroke-width="1.4" stroke-linejoin="round"/>
<polygon points="200.0,394.2 198.2,391.0 201.8,391.0" fill="#dcdcff" stroke="#1414e6" stroke-width="0.6"/><polygon points="198.2,391.0 201.8,391.0 200.7,392.9 199.3,392.9" fill="#1414e6"/>
<polygon points="208.2,394.2 206.3,390.9 210.0,390.9" fill="#dcdcff" stroke="#1414e6" stroke-width="0.6"/><polygon points="206.3,390.9 210.0,390.9 208.9,392.9 207.4,392.9" fill="#1414e6"/>
<polygon points="216.3,394.2 214.5,390.9 218.1,390.9" fill="#dcdcff" stroke="#1414e6" stroke-width="0.6"/><polygon points="214.5,390.9 218.1,390.9 217.0,392.9 215.6,392.9" fill="#1414e6"/>
<polygon points="224.5,394.2 222.7,390.9 226.3,390.9" fill="#dcdcff" stroke="#1414e6" stroke-width="0.6"/><polygon points="222.7,390.9 226.3,390.9 225.2,392.9 223.7,392.9" fill="#1414e6"/>
<polygon points="232.6,394.1 230.8,390.9 234.4,390.9" fill="#dcdcff" stroke="#1414e6" stroke-width="0.6"/><polygon points="230.8,390.9 234.4,390.9 233.3,392.9 231.9,392.9" fill="#1414e6"/>
<polygon points="240.8,394.1 239.0,390.9 242.6,390.9" fill="#dcdcff" stroke="#1414e6" stroke-width="0.6"/><polygon points="239.0,390.9 242.6,390.9 241.5,392.8 240.0,392.8" fill="#1414e6"/>
<polygon points="248.9,394.1 247.1,390.9 250.7,390.9" fill="#dcdcff" stroke="#1414e6" stroke-width="0.6"/><polygon points="247.1,390.9 250.7,390.9 249.6,392.8 248.2,392.8" fill="#1414e6"/>
<polygon points="257.0,394.1 255.2,390.9 258.8,390.9" fill="#dcdcff" stroke="#1414e6" stroke-width="0.6"/><polygon points="255.2,390.9 258.8,390.9 257.7,392.8 256.3,392.8" fill="#1414e6"/>
<polygon points="259.0,394.1 257.2,390.9 260.8,390.9" fill="#dcdcff" stroke="#1414e6" stroke-width="0.6"/><polygon points="257.2,390.9 260.8,390.9 259.7,392.8 258.3,392.8" fill="#1414e6"/>
<polygon points="261.0,394.1 259.2,390.9 262.8,390.9" fill="#dcdcff" stroke="#1414e6" stroke-width="0.6"/><polygon points="259.2,390.9 262.8,390.9 261.7,392.8 260.3,392.8" fill="#1414e6"/>
<polygon points="263.0,394.1 261.2,390.9 264.8,390.9" fill="#dcdcff" stroke="#1414e6" stroke-width="0.6"/><polygon points="261.2,390.9 264.8,390.9 263.7,392.8 262.3,392.8" fill="#1414e6"/>
<polygon points="265.0,394.1 263.2,390.9 266.8,390.9" fill="#dcdcff" stroke="#1414e6" stroke-width="0.6"/><polygon points="263.2,390.9 266.8,390.9 265.7,392.8 264.3,392.8" fill="#1414e6"/>
<polygon points="267.0,393.8 265.2,390.6 268.8,390.6" fill="#dcdcff" stroke="#1414e6" stroke-width="0.6"/><polygon points="265.2,390.6 268.8,390.6 267.7,392.5 266.3,392.5" fill="#1414e6"/>
<polygon points="269.0,392.0 267.2,388.8 270.8,388.8" fill="#dcdcff" stroke="#1414e6" stroke-width="0.6"/><polygon points="267.2,388.8 270.8,388.8 269.7,390.8 268.3,390.8" fill="#1414e6"/>
<polygon points="271.6,381.0 269.8,377.8 273.4,377.8" fill="#dcdcff" stroke="#1414e6" stroke-width="0.6"/><polygon points="269.8,377.8 273.4,377.8 272.3,379.7 270.9,379.7" fill="#1414e6"/>
<polygon points="272.4,369.6 270.6,366.3 274.2,366.3" fill="#dcdcff" stroke="#1414e6" stroke-width="0.6"/><polygon points="270.6,366.3 274.2,366.3 273.1,368.3 271.6,368.3" fill="#1414e6"/>
<polygon points="272.6,358.3 270.8,355.1 274.4,355.1" fill="#dcdcff" stroke="#1414e6" stroke-width="0.6"/><polygon points="270.8,355.1 274.4,355.1 273.3,357.0 271.8,357.0" fill="#1414e6"/>
<polygon points="272.8,344.3 271.0,341.1 274.6,341.1" fill="#dcdcff" stroke="#1414e6" stroke-width="0.6"/><polygon points="271.0,341.1 274.6,341.1 273.5,343.0 272.0,343.0" fill="#1414e6"/>
<polygon points="272.9,333.0 271.1,329.7 274.7,329.7" fill="#dcdcff" stroke="#1414e6" stroke-width="0.6"/><polygon points="271.1,329.7 274.7,329.7 273.6,331.7 272.2,331.7" fill="#1414e6"/>
<polygon points="273.1,321.2 271.3,318.0 274.9,318.0" fill="#dcdcff" stroke="#1414e6" stroke-width="0.6"/><polygon points="271.3,318.0 274.9,318.0 273.8,319.9 272.3,319.9" fill="#1414e6"/>
<polygon points="273.2,308.8 271.4,305.6 275.0,305.6" fill="#dcdcff" stroke="#1414e6" stroke-width="0.6"/><polygon points="271.4,305.6 275.0,305.6 273.9,307.5 272.5,307.5" fill="#1414e6"/>
<polygon points="273.4,296.0 271.6,292.8 275.2,292.8" fill="#dcdcff" stroke="#1414e6" stroke-width="0.6"/><polygon points="271.6,292.8 275.2,292.8 274.1,294.8 272.6,294.8" fill="#1414e6"/>
<polygon points="273.6,281.8 271.8,278.6 275.4,278.6" fill="#dcdcff" stroke="#1414e6" stroke-width="0.6"/><polygon points="271.8,278.6 275.4,278.6 274.3,280.5 272.8,280.5" fill="#1414e6"/>
<polygon points="273.8,270.7 272.0,267.4 275.6,267.4" fill="#dcdcff" stroke="#1414e6" stroke-width="0.6"/><polygon points="272.0,267.4 275.6,267.4 274.5,269.4 273.1,269.4" fill="#1414e6"/>
<polygon points="274.9,259.6 273.1,256.4 276.7,256.4" fill="#dcdcff" stroke="#1414e6" stroke-width="0.6"/><polygon points="273.1,256.4 276.7,256.4 275.6,258.3 274.2,258.3" fill="#1414e6"/>
<polygon points="276.7,263.5 274.9,260.3 278.5,260.3" fill="#dcdcff" stroke="#1414e6" stroke-width="0.6"/><polygon points="274.9,260.3 278.5,260.3 277.4,262.2 276.0,262.2" fill="#1414e6"/>
<polygon points="277.2,273.5 275.4,270.2 279.0,270.2" fill="#dcdcff" stroke="#1414e6" stroke-width="0.6"/><polygon points="275.4,270.2 279.0,270.2 277.9,272.2 276.5,272.2" fill="#1414e6"/>
<polygon points="277.4,282.0 275.6,278.7 279.2,278.7" fill="#dcdcff" stroke="#1414e6" stroke-width="0.6"/><polygon points="275.6,278.7 279.2,278.7 278.1,280.7 276.6,280.7" fill="#1414e6"/>
<polygon points="277.8,290.1 276.0,286.8 279.6,286.8" fill="#dcdcff" stroke="#1414e6" stroke-width="0.6"/><polygon points="276.0,286.8 279.6,286.8 278.5,288.8 277.0,288.8" fill="#1414e6"/>
<polygon points="278.2,298.6 276.4,295.3 280.0,295.3" fill="#dcdcff" stroke="#1414e6" stroke-width="0.6"/><polygon points="276.4,295.3 280.0,295.3 278.9,297.3 277.5,297.3" fill="#1414e6"/>
<polygon points="278.6,306.9 276.8,303.7 280.4,303.7" fill="#dcdcff" stroke="#1414e6" stroke-width="0.6"/><polygon points="276.8,303.7 280.4,303.7 279.3,305.6 277.8,305.6" fill="#1414e6"/>
<polygon points="278.9,315.3 277.1,312.0 280.7,312.0" fill="#dcdcff" stroke="#1414e6" stroke-width="0.6"/><polygon points="277.1,312.0 280.7,312.0 279.6,314.0 278.2,314.0" fill="#1414e6"/>
<polygon points="279.3,323.6 277.5,320.4 281.1,320.4" fill="#dcdcff" stroke="#1414e6" stroke-width="0.6"/><polygon points="277.5,320.4 281.1,320.4 280.0,322.3 278.5,322.3" fill="#1414e6"/>
<polygon points="279.6,331.1 277.8,327.9 281.4,327.9" fill="#dcdcff" stroke="#1414e6" stroke-width="0.6"/><polygon points="277.8,327.9 281.4,327.9 280.3,329.8 278.8,329.8" fill="#1414e6"/>
<polygon points="279.9,338.7 278.1,335.5 281.7,335.5" fill="#dcdcff" stroke="#1414e6" stroke-width="0.6"/><polygon points="278.1,335.5 281.7,335.5 280.6,337.4 279.1,337.4" fill="#1414e6"/>
<polygon points="280.2,346.3 278.4,343.1 282.0,343.1" fill="#dcdcff" stroke="#1414e6" stroke-width="0.6"/><polygon points="278.4,343.1 282.0,343.1 280.9,345.0 279.4,345.0" fill="#1414e6"/>
<polygon points="280.6,353.9 278.8,350.6 282.4,350.6" fill="#dcdcff" stroke="#1414e6" stroke-width="0.6"/><polygon points="278.8,350.6 282.4,350.6 281.3,352.6 279.9,352.6" fill="#1414e6"/>
<polygon points="281.2,361.4 279.4,358.2 283.0,358.2" fill="#dcdcff" stroke="#1414e6" stroke-width="0.6"/><polygon points="279.4,358.2 283.0,358.2 281.9,360.1 280.5,360.1" fill="#1414e6"/>
<polygon points="281.8,369.0 280.0,365.8 283.6,365.8" fill="#dcdcff" stroke="#1414e6" stroke-width="0.6"/><polygon points="280.0,365.8 283.6,365.8 282.5,367.7 281.1,367.7" fill="#1414e6"/>
<polygon points="282.0,369.5 280.2,366.3 283.8,366.3" fill="#dcdcff" stroke="#1414e6" stroke-width="0.6"/><polygon points="280.2,366.3 283.8,366.3 282.7,368.2 281.3,368.2" fill="#1414e6"/>
<polygon points="282.6,371.0 280.8,367.8 284.4,367.8" fill="#dcdcff" stroke="#1414e6" stroke-width="0.6"/><polygon points="280.8,367.8 284.4,367.8 283.3,369.7 281.8,369.7" fill="#1414e6"/>
<polygon points="283.1,372.5 281.3,369.2 284.9,369.2" fill="#dcdcff" stroke="#1414e6" stroke-width="0.6"/><polygon points="281.3,369.2 284.9,369.2 283.8,371.2 282.4,371.2" fill="#1414e6"/>
<polygon points="283.7,374.0 281.9,370.7 285.5,370.7" fill="#dcdcff" stroke="#1414e6" stroke-width="0.6"/><polygon points="281.9,370.7 285.5,370.7 284.4,372.7 282.9,372.7" fill="#1414e6"/>
<polygon points="284.2,375.4 282.4,372.2 286.0,372.2" fill="#dcdcff" stroke="#1414e6" stroke-width="0.6"/><polygon points="282.4,372.2 286.0,372.2 284.9,374.1 283.5,374.1" fill="#1414e6"/>
<polygon points="284.8,376.6 283.0,373.4 286.6,373.4" fill="#dcdcff" stroke="#1414e6" stroke-width="0.6"/><polygon points="283.0,373.4 286.6,373.4 285.5,375.3 284.0,375.3" fill="#1414e6"/>
<polygon points="285.3,377.0 283.5,373.8 287.1,373.8" fill="#dcdcff" stroke="#1414e6" stroke-width="0.6"/><polygon points="283.5,373.8 287.1,373.8 286.0,375.7 284.6,375.7" fill="#1414e6"/>
<polygon points="285.9,377.4 284.1,374.2 287.7,374.2" fill="#dcdcff" stroke="#1414e6" stroke-width="0.6"/><polygon points="284.1,374.2 287.7,374.2 286.6,376.1 285.1,376.1" fill="#1414e6"/>
<polygon points="286.4,377.8 284.6,374.6 288.2,374.6" fill="#dcdcff" stroke="#1414e6" stroke-width="0.6"/><polygon points="284.6,374.6 288.2,374.6 287.1,376.5 285.7,376.5" fill="#1414e6"/>
<polygon points="287.0,378.2 285.2,375.0 288.8,375.0" fill="#dcdcff" stroke="#1414e6" stroke-width="0.6"/><polygon points="285.2,375.0 288.8,375.0 287.7,376.9 286.2,376.9" fill="#1414e6"/>
<polygon points="287.5,378.6 285.7,375.4 289.3,375.4" fill="#dcdcff" stroke="#1414e6" stroke-width="0.6"/><polygon points="285.7,375.4 289.3,375.4 288.2,377.3 286.8,377.3" fill="#1414e6"/>
<polygon points="288.1,379.0 286.3,375.8 289.9,375.8" fill="#dcdcff" stroke="#1414e6" stroke-width="0.6"/><polygon points="286.3,375.8 289.9,375.8 288.8,377.7 287.3,377.7" fill="#1414e6"/>
<polygon points="288.6,379.4 286.8,376.1 290.4,376.1" fill="#dcdcff" stroke="#1414e6" stroke-width="0.6"/><polygon points="286.8,376.1 290.4,376.1 289.3,378.1 287.9,378.1" fill="#1414e6"/>
<polygon points="289.2,379.5 287.4,376.3 291.0,376.3" fill="#dcdcff" stroke="#1414e6" stroke-width="0.6"/><polygon points="287.4,376.3 291.0,376.3 289.9,378.2 288.4,378.2" fill="#1414e6"/>
<polygon points="289.7,379.7 287.9,376.4 291.5,376.4" fill="#dcdcff" stroke="#1414e6" stroke-width="0.6"/><polygon points="287.9,376.4 291.5,376.4 290.4,378.4 289.0,378.4" fill="#1414e6"/>
<polygon points="290.3,379.9 288.5,376.6 292.1,376.6" fill="#dcdcff" stroke="#1414e6" stroke-width="0.6"/><polygon points="288.5,376.6 292.1,376.6 291.0,378.6 289.5,378.6" fill="#1414e6"/>
<polygon points="290.8,380.0 289.0,376.8 292.6,376.8" fill="#dcdcff" stroke="#1414e6" stroke-width="0.6"/><polygon points="289.0,376.8 292.6,376.8 291.5,378.7 290.1,378.7" fill="#1414e6"/>
<polygon points="291.4,380.2 289.6,376.9 293.2,376.9" fill="#dcdcff" stroke="#1414e6" stroke-width="0.6"/><polygon points="289.6,376.9 293.2,376.9 292.1,378.9 290.6,378.9" fill="#1414e6"/>
<polygon points="291.9,380.3 290.1,377.1 293.7,377.1" fill="#dcdcff" stroke="#1414e6" stroke-width="0.6"/><polygon points="290.1,377.1 293.7,377.1 292.6,379.0 291.2,379.0" fill="#1414e6"/>
<polygon points="292.5,380.5 290.7,377.3 294.3,377.3" fill="#dcdcff" stroke="#1414e6" stroke-width="0.6"/><polygon points="290.7,377.3 294.3,377.3 293.2,379.2 291.7,379.2" fill="#1414e6"/>
<polygon points="293.0,380.7 291.2,377.4 294.8,377.4" fill="#dcdcff" stroke="#1414e6" stroke-width="0.6"/><polygon points="291.2,377.4 294.8,377.4 293.7,379.4 292.3,379.4" fill="#1414e6"/>
<polygon points="293.1,380.7 291.3,377.5 294.9,377.5" fill="#dcdcff" stroke="#1414e6" stroke-width="0.6"/><polygon points="291.3,377.5 294.9,377.5 293.8,379.4 292.4,379.4" fill="#1414e6"/>
<polyline points="198.1,392.0 253.3,392.0 254.5,376.6 254.9,320.0 254.9,262.0 255.7,256.5 257.3,251.6 258.3,262.0 258.5,285.0 258.9,305.0 259.3,318.0 260.1,344.5 262.0,363.4 263.9,371.0 266.7,376.6 270.5,378.5" fill="none" stroke="#f018f0" stroke-width="1.55" stroke-linejoin="round"/>
<polygon points="196.39,392.00 198.20,390.10 200.29,392.00 198.20,393.90" fill="#fff4ff" stroke="#f018f0" stroke-width="0.5"/><polygon points="197.66,390.67 198.20,390.10 200.29,392.00 198.20,393.90 197.66,393.33" fill="#f018f0"/>
<polygon points="199.59,392.00 201.40,390.10 203.49,392.00 201.40,393.90" fill="#fff4ff" stroke="#f018f0" stroke-width="0.5"/><polygon points="200.86,390.67 201.40,390.10 203.49,392.00 201.40,393.90 200.86,393.33" fill="#f018f0"/>
<polygon points="202.79,392.00 204.60,390.10 206.69,392.00 204.60,393.90" fill="#fff4ff" stroke="#f018f0" stroke-width="0.5"/><polygon points="204.06,390.67 204.60,390.10 206.69,392.00 204.60,393.90 204.06,393.33" fill="#f018f0"/>
<polygon points="205.99,392.00 207.80,390.10 209.89,392.00 207.80,393.90" fill="#fff4ff" stroke="#f018f0" stroke-width="0.5"/><polygon points="207.26,390.67 207.80,390.10 209.89,392.00 207.80,393.90 207.26,393.33" fill="#f018f0"/>
<polygon points="209.19,392.00 211.00,390.10 213.09,392.00 211.00,393.90" fill="#fff4ff" stroke="#f018f0" stroke-width="0.5"/><polygon points="210.46,390.67 211.00,390.10 213.09,392.00 211.00,393.90 210.46,393.33" fill="#f018f0"/>
<polygon points="212.39,392.00 214.20,390.10 216.29,392.00 214.20,393.90" fill="#fff4ff" stroke="#f018f0" stroke-width="0.5"/><polygon points="213.66,390.67 214.20,390.10 216.29,392.00 214.20,393.90 213.66,393.33" fill="#f018f0"/>
<polygon points="215.59,392.00 217.40,390.10 219.49,392.00 217.40,393.90" fill="#fff4ff" stroke="#f018f0" stroke-width="0.5"/><polygon points="216.86,390.67 217.40,390.10 219.49,392.00 217.40,393.90 216.86,393.33" fill="#f018f0"/>
<polygon points="218.79,392.00 220.60,390.10 222.69,392.00 220.60,393.90" fill="#fff4ff" stroke="#f018f0" stroke-width="0.5"/><polygon points="220.06,390.67 220.60,390.10 222.69,392.00 220.60,393.90 220.06,393.33" fill="#f018f0"/>
<polygon points="221.99,392.00 223.80,390.10 225.89,392.00 223.80,393.90" fill="#fff4ff" stroke="#f018f0" stroke-width="0.5"/><polygon points="223.26,390.67 223.80,390.10 225.89,392.00 223.80,393.90 223.26,393.33" fill="#f018f0"/>
<polygon points="225.19,392.00 227.00,390.10 229.09,392.00 227.00,393.90" fill="#fff4ff" stroke="#f018f0" stroke-width="0.5"/><polygon points="226.46,390.67 227.00,390.10 229.09,392.00 227.00,393.90 226.46,393.33" fill="#f018f0"/>
<polygon points="228.39,392.00 230.20,390.10 232.29,392.00 230.20,393.90" fill="#fff4ff" stroke="#f018f0" stroke-width="0.5"/><polygon points="229.66,390.67 230.20,390.10 232.29,392.00 230.20,393.90 229.66,393.33" fill="#f018f0"/>
<polygon points="231.59,392.00 233.40,390.10 235.49,392.00 233.40,393.90" fill="#fff4ff" stroke="#f018f0" stroke-width="0.5"/><polygon points="232.86,390.67 233.40,390.10 235.49,392.00 233.40,393.90 232.86,393.33" fill="#f018f0"/>
<polygon points="234.79,392.00 236.60,390.10 238.69,392.00 236.60,393.90" fill="#fff4ff" stroke="#f018f0" stroke-width="0.5"/><polygon points="236.06,390.67 236.60,390.10 238.69,392.00 236.60,393.90 236.06,393.33" fill="#f018f0"/>
<polygon points="237.99,392.00 239.80,390.10 241.89,392.00 239.80,393.90" fill="#fff4ff" stroke="#f018f0" stroke-width="0.5"/><polygon points="239.26,390.67 239.80,390.10 241.89,392.00 239.80,393.90 239.26,393.33" fill="#f018f0"/>
<polygon points="241.19,392.00 243.00,390.10 245.09,392.00 243.00,393.90" fill="#fff4ff" stroke="#f018f0" stroke-width="0.5"/><polygon points="242.46,390.67 243.00,390.10 245.09,392.00 243.00,393.90 242.46,393.33" fill="#f018f0"/>
<polygon points="244.39,392.00 246.20,390.10 248.29,392.00 246.20,393.90" fill="#fff4ff" stroke="#f018f0" stroke-width="0.5"/><polygon points="245.66,390.67 246.20,390.10 248.29,392.00 246.20,393.90 245.66,393.33" fill="#f018f0"/>
<polygon points="247.59,392.00 249.40,390.10 251.49,392.00 249.40,393.90" fill="#fff4ff" stroke="#f018f0" stroke-width="0.5"/><polygon points="248.86,390.67 249.40,390.10 251.49,392.00 249.40,393.90 248.86,393.33" fill="#f018f0"/>
<polygon points="250.79,392.00 252.60,390.10 254.69,392.00 252.60,393.90" fill="#fff4ff" stroke="#f018f0" stroke-width="0.5"/><polygon points="252.06,390.67 252.60,390.10 254.69,392.00 252.60,393.90 252.06,393.33" fill="#f018f0"/>
<polygon points="252.52,378.91 254.32,377.01 256.41,378.91 254.32,380.81" fill="#fff4ff" stroke="#f018f0" stroke-width="0.5"/><polygon points="253.78,377.58 254.32,377.01 256.41,378.91 254.32,380.81 253.78,380.24" fill="#f018f0"/>
<polygon points="252.78,365.28 254.58,363.38 256.67,365.28 254.58,367.18" fill="#fff4ff" stroke="#f018f0" stroke-width="0.5"/><polygon points="254.04,363.95 254.58,363.38 256.67,365.28 254.58,367.18 254.04,366.61" fill="#f018f0"/>
<polygon points="252.88,351.13 254.68,349.23 256.77,351.13 254.68,353.03" fill="#fff4ff" stroke="#f018f0" stroke-width="0.5"/><polygon points="254.14,349.80 254.68,349.23 256.77,351.13 254.68,353.03 254.14,352.46" fill="#f018f0"/>
<polygon points="252.98,336.98 254.78,335.08 256.87,336.98 254.78,338.88" fill="#fff4ff" stroke="#f018f0" stroke-width="0.5"/><polygon points="254.24,335.65 254.78,335.08 256.87,336.98 254.78,338.88 254.24,338.31" fill="#f018f0"/>
<polygon points="253.08,322.83 254.88,320.93 256.97,322.83 254.88,324.73" fill="#fff4ff" stroke="#f018f0" stroke-width="0.5"/><polygon points="254.34,321.50 254.88,320.93 256.97,322.83 254.88,324.73 254.34,324.16" fill="#f018f0"/>
<polygon points="253.10,262.00 254.90,260.10 256.99,262.00 254.90,263.90" fill="#fff4ff" stroke="#f018f0" stroke-width="0.5"/><polygon points="254.36,260.67 254.90,260.10 256.99,262.00 254.90,263.90 254.36,263.33" fill="#f018f0"/>
<polygon points="256.59,273.50 258.40,271.60 260.49,273.50 258.40,275.40" fill="#fff4ff" stroke="#f018f0" stroke-width="0.5"/><polygon points="257.86,272.17 258.40,271.60 260.49,273.50 258.40,275.40 257.86,274.83" fill="#f018f0"/>
<polygon points="256.71,286.00 258.52,284.10 260.61,286.00 258.52,287.90" fill="#fff4ff" stroke="#f018f0" stroke-width="0.5"/><polygon points="257.98,284.67 258.52,284.10 260.61,286.00 258.52,287.90 257.98,287.33" fill="#f018f0"/>
<polygon points="256.95,298.00 258.76,296.10 260.85,298.00 258.76,299.90" fill="#fff4ff" stroke="#f018f0" stroke-width="0.5"/><polygon points="258.22,296.67 258.76,296.10 260.85,298.00 258.76,299.90 258.22,299.33" fill="#f018f0"/>
<polygon points="257.25,310.20 259.06,308.30 261.15,310.20 259.06,312.10" fill="#fff4ff" stroke="#f018f0" stroke-width="0.5"/><polygon points="258.52,308.87 259.06,308.30 261.15,310.20 259.06,312.10 258.52,311.53" fill="#f018f0"/>
<polygon points="257.50,318.00 259.30,316.10 261.39,318.00 259.30,319.90" fill="#fff4ff" stroke="#f018f0" stroke-width="0.5"/><polygon points="258.76,316.67 259.30,316.10 261.39,318.00 259.30,319.90 258.76,319.33" fill="#f018f0"/>
<polygon points="257.70,324.63 259.50,322.73 261.59,324.63 259.50,326.53" fill="#fff4ff" stroke="#f018f0" stroke-width="0.5"/><polygon points="258.96,323.30 259.50,322.73 261.59,324.63 259.50,326.53 258.96,325.96" fill="#f018f0"/>
<polygon points="257.90,331.25 259.70,329.35 261.79,331.25 259.70,333.15" fill="#fff4ff" stroke="#f018f0" stroke-width="0.5"/><polygon points="259.16,329.92 259.70,329.35 261.79,331.25 259.70,333.15 259.16,332.58" fill="#f018f0"/>
<polygon points="258.10,337.88 259.90,335.98 261.99,337.88 259.90,339.78" fill="#fff4ff" stroke="#f018f0" stroke-width="0.5"/><polygon points="259.36,336.55 259.90,335.98 261.99,337.88 259.90,339.78 259.36,339.21" fill="#f018f0"/>
<polygon points="258.30,344.50 260.10,342.60 262.19,344.50 260.10,346.40" fill="#fff4ff" stroke="#f018f0" stroke-width="0.5"/><polygon points="259.56,343.17 260.10,342.60 262.19,344.50 260.10,346.40 259.56,345.83" fill="#f018f0"/>
<polygon points="258.85,349.97 260.65,348.07 262.74,349.97 260.65,351.87" fill="#fff4ff" stroke="#f018f0" stroke-width="0.5"/><polygon points="260.11,348.64 260.65,348.07 262.74,349.97 260.65,351.87 260.11,351.30" fill="#f018f0"/>
<polygon points="259.40,355.44 261.20,353.54 263.29,355.44 261.20,357.34" fill="#fff4ff" stroke="#f018f0" stroke-width="0.5"/><polygon points="260.66,354.11 261.20,353.54 263.29,355.44 261.20,357.34 260.66,356.77" fill="#f018f0"/>
<polygon points="259.95,360.91 261.75,359.01 263.84,360.91 261.75,362.81" fill="#fff4ff" stroke="#f018f0" stroke-width="0.5"/><polygon points="261.21,359.58 261.75,359.01 263.84,360.91 261.75,362.81 261.21,362.24" fill="#f018f0"/>
<polygon points="260.19,363.40 262.00,361.50 264.09,363.40 262.00,365.30" fill="#fff4ff" stroke="#f018f0" stroke-width="0.5"/><polygon points="261.46,362.07 262.00,361.50 264.09,363.40 262.00,365.30 261.46,364.73" fill="#f018f0"/>
<polygon points="260.75,365.60 262.55,363.70 264.64,365.60 262.55,367.50" fill="#fff4ff" stroke="#f018f0" stroke-width="0.5"/><polygon points="262.01,364.27 262.55,363.70 264.64,365.60 262.55,367.50 262.01,366.93" fill="#f018f0"/>
<polygon points="261.30,367.80 263.10,365.90 265.19,367.80 263.10,369.70" fill="#fff4ff" stroke="#f018f0" stroke-width="0.5"/><polygon points="262.56,366.47 263.10,365.90 265.19,367.80 263.10,369.70 262.56,369.13" fill="#f018f0"/>
<polygon points="261.85,370.00 263.65,368.10 265.74,370.00 263.65,371.90" fill="#fff4ff" stroke="#f018f0" stroke-width="0.5"/><polygon points="263.11,368.67 263.65,368.10 265.74,370.00 263.65,371.90 263.11,371.33" fill="#f018f0"/>
<polygon points="262.40,371.60 264.20,369.70 266.29,371.60 264.20,373.50" fill="#fff4ff" stroke="#f018f0" stroke-width="0.5"/><polygon points="263.66,370.27 264.20,369.70 266.29,371.60 264.20,373.50 263.66,372.93" fill="#f018f0"/>
<polygon points="262.95,372.70 264.75,370.80 266.84,372.70 264.75,374.60" fill="#fff4ff" stroke="#f018f0" stroke-width="0.5"/><polygon points="264.21,371.37 264.75,370.80 266.84,372.70 264.75,374.60 264.21,374.03" fill="#f018f0"/>
<polygon points="263.50,373.80 265.30,371.90 267.39,373.80 265.30,375.70" fill="#fff4ff" stroke="#f018f0" stroke-width="0.5"/><polygon points="264.76,372.47 265.30,371.90 267.39,373.80 265.30,375.70 264.76,375.13" fill="#f018f0"/>
<polygon points="264.05,374.90 265.85,373.00 267.94,374.90 265.85,376.80" fill="#fff4ff" stroke="#f018f0" stroke-width="0.5"/><polygon points="265.31,373.57 265.85,373.00 267.94,374.90 265.85,376.80 265.31,376.23" fill="#f018f0"/>
<polygon points="264.60,376.00 266.40,374.10 268.49,376.00 266.40,377.90" fill="#fff4ff" stroke="#f018f0" stroke-width="0.5"/><polygon points="265.86,374.67 266.40,374.10 268.49,376.00 266.40,377.90 265.86,377.33" fill="#f018f0"/>
<polygon points="265.15,376.73 266.95,374.83 269.04,376.73 266.95,378.63" fill="#fff4ff" stroke="#f018f0" stroke-width="0.5"/><polygon points="266.41,375.40 266.95,374.83 269.04,376.73 266.95,378.63 266.41,378.06" fill="#f018f0"/>
<polygon points="265.70,377.00 267.50,375.10 269.59,377.00 267.50,378.90" fill="#fff4ff" stroke="#f018f0" stroke-width="0.5"/><polygon points="266.96,375.67 267.50,375.10 269.59,377.00 267.50,378.90 266.96,378.33" fill="#f018f0"/>
<polygon points="266.25,377.28 268.05,375.38 270.14,377.28 268.05,379.18" fill="#fff4ff" stroke="#f018f0" stroke-width="0.5"/><polygon points="267.51,375.95 268.05,375.38 270.14,377.28 268.05,379.18 267.51,378.61" fill="#f018f0"/>
<polygon points="266.80,377.55 268.60,375.65 270.69,377.55 268.60,379.45" fill="#fff4ff" stroke="#f018f0" stroke-width="0.5"/><polygon points="268.06,376.22 268.60,375.65 270.69,377.55 268.60,379.45 268.06,378.88" fill="#f018f0"/>
<polygon points="267.35,377.83 269.15,375.93 271.24,377.83 269.15,379.73" fill="#fff4ff" stroke="#f018f0" stroke-width="0.5"/><polygon points="268.61,376.50 269.15,375.93 271.24,377.83 269.15,379.73 268.61,379.16" fill="#f018f0"/>
<polygon points="267.90,378.10 269.70,376.20 271.79,378.10 269.70,380.00" fill="#fff4ff" stroke="#f018f0" stroke-width="0.5"/><polygon points="269.16,376.77 269.70,376.20 271.79,378.10 269.70,380.00 269.16,379.43" fill="#f018f0"/>
<polygon points="268.45,378.38 270.25,376.48 272.34,378.38 270.25,380.28" fill="#fff4ff" stroke="#f018f0" stroke-width="0.5"/><polygon points="269.71,377.05 270.25,376.48 272.34,378.38 270.25,380.28 269.71,379.71" fill="#f018f0"/>
<polygon points="268.69,378.50 270.50,376.60 272.59,378.50 270.50,380.40" fill="#fff4ff" stroke="#f018f0" stroke-width="0.5"/><polygon points="269.96,377.17 270.50,376.60 272.59,378.50 270.50,380.40 269.96,379.83" fill="#f018f0"/>
<line x1="363.2" y1="233.3" x2="382.2" y2="233.3" stroke="#1a8c1a" stroke-width="1.45"/>
<circle cx="372.2" cy="233.3" r="2.1" fill="url(#gG)"/>
<text x="383.7" y="236.0" font-size="8.1">25 <tspan font-size="5.8" dy="-3.0" stroke-width="0.1">o</tspan><tspan dy="3.0" dx="-0.3">C</tspan></text>
<line x1="363.2" y1="243.4" x2="382.2" y2="243.4" stroke="#e31a1c" stroke-width="1.45"/>
<polygon points="372.2,241.4 370.2,245.0 374.2,245.0" fill="#ffd9d4" stroke="#e31a1c" stroke-width="0.6"/><polygon points="372.2,241.4 370.8,244.0 373.6,244.0" fill="#e31a1c"/>
<text x="383.7" y="246.1" font-size="8.1">35 <tspan font-size="5.8" dy="-3.0" stroke-width="0.1">o</tspan><tspan dy="3.0" dx="-0.3">C</tspan></text>
<line x1="363.2" y1="253.5" x2="382.2" y2="253.5" stroke="#1414e6" stroke-width="1.45"/>
<polygon points="372.2,255.5 370.2,251.9 374.2,251.9" fill="#dcdcff" stroke="#1414e6" stroke-width="0.6"/><polygon points="370.2,251.9 374.2,251.9 373.0,254.1 371.4,254.1" fill="#1414e6"/>
<text x="383.7" y="256.2" font-size="8.1">45 <tspan font-size="5.8" dy="-3.0" stroke-width="0.1">o</tspan><tspan dy="3.0" dx="-0.3">C</tspan></text>
<line x1="363.2" y1="263.6" x2="382.2" y2="263.6" stroke="#f018f0" stroke-width="1.45"/>
<polygon points="370.30,263.65 372.20,261.65 374.40,263.65 372.20,265.65" fill="#fff4ff" stroke="#f018f0" stroke-width="0.5"/><polygon points="371.63,262.25 372.20,261.65 374.40,263.65 372.20,265.65 371.63,265.05" fill="#f018f0"/>
<text x="383.7" y="266.3" font-size="8.1">55 <tspan font-size="5.8" dy="-3.0" stroke-width="0.1">o</tspan><tspan dy="3.0" dx="-0.3">C</tspan></text>
</g>
</svg>
</body></html>
